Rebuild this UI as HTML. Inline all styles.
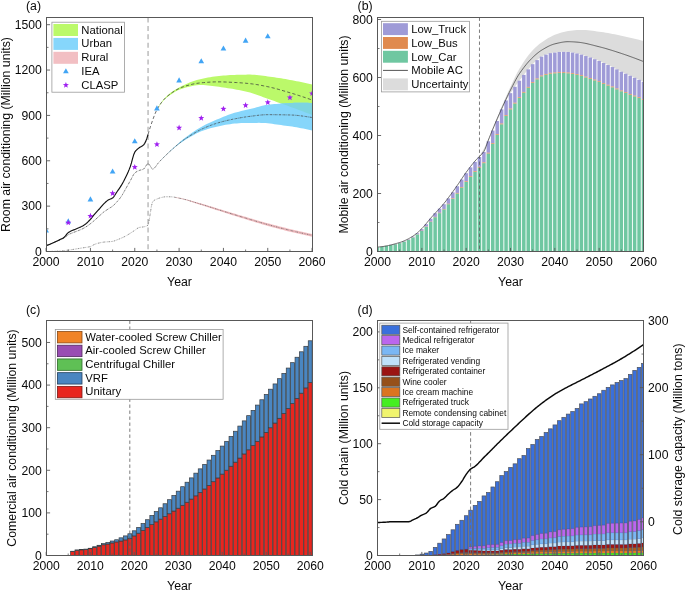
<!DOCTYPE html>
<html lang="en"><head><meta charset="utf-8"><title>Air conditioning and cold chain stock projections</title>
<style>html,body{margin:0;padding:0;background:#fff}body{width:685px;height:591px;overflow:hidden}svg{display:block}text{font-family:'Liberation Sans', Arial, Helvetica, sans-serif;fill:#0a0a0a}</style>
</head><body>
<svg width="685" height="591" viewBox="0 0 685 591">
<rect width="685" height="591" fill="#fff"/>
<g id="panel-a">
<clipPath id="clipA"><rect x="46.5" y="17.5" width="266" height="234"/></clipPath>
<g clip-path="url(#clipA)">
<path d="M156.93 109.07 L159.15 105.61 L161.37 102.35 L163.58 99.4 L165.8 96.91 L168.02 94.9 L170.23 93.11 L172.45 91.47 L174.67 89.98 L176.88 88.63 L179.1 87.38 L181.32 86.24 L183.53 85.18 L185.75 84.18 L187.97 83.23 L190.18 82.34 L192.4 81.52 L194.62 80.76 L196.83 80.07 L199.05 79.46 L201.27 78.92 L203.48 78.43 L205.7 77.96 L207.92 77.53 L210.13 77.14 L212.35 76.78 L214.57 76.47 L216.78 76.2 L219 75.97 L221.22 75.76 L223.43 75.56 L225.65 75.38 L227.87 75.23 L230.08 75.09 L232.3 74.98 L234.52 74.9 L236.73 74.83 L238.95 74.77 L241.17 74.71 L243.38 74.66 L245.6 74.63 L247.82 74.6 L250.03 74.59 L252.25 74.64 L254.47 74.78 L256.68 74.98 L258.9 75.23 L261.12 75.51 L263.33 75.82 L265.55 76.12 L267.76 76.41 L269.98 76.69 L272.2 76.99 L274.41 77.31 L276.63 77.65 L278.85 78 L281.06 78.36 L283.28 78.73 L285.5 79.11 L287.71 79.49 L289.93 79.89 L292.15 80.29 L294.36 80.7 L296.58 81.13 L298.8 81.56 L301.01 82.01 L303.23 82.47 L305.45 82.95 L307.66 83.43 L309.88 83.92 L312.1 84.42 L312.1 114.96 L309.88 114.11 L307.66 113.27 L305.45 112.42 L303.23 111.58 L301.01 110.75 L298.8 109.92 L296.58 109.09 L294.36 108.27 L292.15 107.46 L289.93 106.65 L287.71 105.84 L285.5 105.05 L283.28 104.25 L281.06 103.47 L278.85 102.68 L276.63 101.9 L274.41 101.12 L272.2 100.34 L269.98 99.57 L267.76 98.79 L265.55 97.99 L263.33 97.16 L261.12 96.32 L258.9 95.49 L256.68 94.69 L254.47 93.92 L252.25 93.22 L250.03 92.59 L247.82 92.02 L245.6 91.49 L243.38 90.99 L241.17 90.53 L238.95 90.08 L236.73 89.66 L234.52 89.26 L232.3 88.87 L230.08 88.49 L227.87 88.13 L225.65 87.78 L223.43 87.45 L221.22 87.14 L219 86.85 L216.78 86.58 L214.57 86.3 L212.35 86.01 L210.13 85.73 L207.92 85.48 L205.7 85.27 L203.48 85.11 L201.27 85.03 L199.05 85.06 L196.83 85.22 L194.62 85.52 L192.4 85.93 L190.18 86.42 L187.97 86.98 L185.75 87.58 L183.53 88.2 L181.32 88.92 L179.1 89.81 L176.88 90.86 L174.67 92.08 L172.45 93.44 L170.23 94.93 L168.02 96.55 L165.8 98.32 L163.58 100.56 L161.37 103.23 L159.15 106.21 L156.93 109.37Z" fill="#bbf96a"/>
<path d="M159.15 161.91 L161.37 159.62 L163.58 157.36 L165.8 155.13 L168.02 152.97 L170.23 150.85 L172.45 148.79 L174.67 146.76 L176.88 144.74 L179.1 142.75 L181.32 140.82 L183.53 139.01 L185.75 137.3 L187.97 135.67 L190.18 134.1 L192.4 132.56 L194.62 131.03 L196.83 129.54 L199.05 128.13 L201.27 126.88 L203.48 125.69 L205.7 124.56 L207.92 123.47 L210.13 122.43 L212.35 121.43 L214.57 120.47 L216.78 119.56 L219 118.66 L221.22 117.76 L223.43 116.86 L225.65 115.98 L227.87 115.12 L230.08 114.3 L232.3 113.54 L234.52 112.85 L236.73 112.22 L238.95 111.63 L241.17 111.08 L243.38 110.56 L245.6 110.06 L247.82 109.56 L250.03 109.07 L252.25 108.53 L254.47 107.92 L256.68 107.28 L258.9 106.63 L261.12 106.02 L263.33 105.47 L265.55 105.01 L267.76 104.68 L269.98 104.45 L272.2 104.24 L274.41 104.06 L276.63 103.9 L278.85 103.75 L281.06 103.61 L283.28 103.47 L285.5 103.33 L287.71 103.18 L289.93 103.02 L292.15 102.88 L294.36 102.78 L296.58 102.72 L298.8 102.7 L301.01 102.71 L303.23 102.74 L305.45 102.79 L307.66 102.86 L309.88 102.94 L312.1 103.02 L312.1 130.54 L309.88 130.05 L307.66 129.56 L305.45 129.08 L303.23 128.6 L301.01 128.14 L298.8 127.71 L296.58 127.3 L294.36 126.92 L292.15 126.59 L289.93 126.3 L287.71 126.03 L285.5 125.74 L283.28 125.43 L281.06 125.11 L278.85 124.79 L276.63 124.47 L274.41 124.15 L272.2 123.84 L269.98 123.55 L267.76 123.28 L265.55 123.07 L263.33 122.94 L261.12 122.88 L258.9 122.87 L256.68 122.89 L254.47 122.92 L252.25 122.96 L250.03 122.98 L247.82 122.99 L245.6 123.01 L243.38 123.05 L241.17 123.12 L238.95 123.23 L236.73 123.38 L234.52 123.58 L232.3 123.84 L230.08 124.14 L227.87 124.48 L225.65 124.86 L223.43 125.27 L221.22 125.71 L219 126.17 L216.78 126.65 L214.57 127.16 L212.35 127.71 L210.13 128.3 L207.92 128.95 L205.7 129.65 L203.48 130.41 L201.27 131.24 L199.05 132.17 L196.83 133.25 L194.62 134.44 L192.4 135.67 L190.18 136.91 L187.97 138.2 L185.75 139.55 L183.53 140.97 L181.32 142.49 L179.1 144.11 L176.88 145.81 L174.67 147.57 L172.45 149.42 L170.23 151.36 L168.02 153.37 L165.8 155.43 L163.58 157.58 L161.37 159.79 L159.15 162.06Z" fill="#86d6fb"/>
<clipPath id="clipU"><path d="M159.15 161.91 L161.37 159.62 L163.58 157.36 L165.8 155.13 L168.02 152.97 L170.23 150.85 L172.45 148.79 L174.67 146.76 L176.88 144.74 L179.1 142.75 L181.32 140.82 L183.53 139.01 L185.75 137.3 L187.97 135.67 L190.18 134.1 L192.4 132.56 L194.62 131.03 L196.83 129.54 L199.05 128.13 L201.27 126.88 L203.48 125.69 L205.7 124.56 L207.92 123.47 L210.13 122.43 L212.35 121.43 L214.57 120.47 L216.78 119.56 L219 118.66 L221.22 117.76 L223.43 116.86 L225.65 115.98 L227.87 115.12 L230.08 114.3 L232.3 113.54 L234.52 112.85 L236.73 112.22 L238.95 111.63 L241.17 111.08 L243.38 110.56 L245.6 110.06 L247.82 109.56 L250.03 109.07 L252.25 108.53 L254.47 107.92 L256.68 107.28 L258.9 106.63 L261.12 106.02 L263.33 105.47 L265.55 105.01 L267.76 104.68 L269.98 104.45 L272.2 104.24 L274.41 104.06 L276.63 103.9 L278.85 103.75 L281.06 103.61 L283.28 103.47 L285.5 103.33 L287.71 103.18 L289.93 103.02 L292.15 102.88 L294.36 102.78 L296.58 102.72 L298.8 102.7 L301.01 102.71 L303.23 102.74 L305.45 102.79 L307.66 102.86 L309.88 102.94 L312.1 103.02 L312.1 130.54 L309.88 130.05 L307.66 129.56 L305.45 129.08 L303.23 128.6 L301.01 128.14 L298.8 127.71 L296.58 127.3 L294.36 126.92 L292.15 126.59 L289.93 126.3 L287.71 126.03 L285.5 125.74 L283.28 125.43 L281.06 125.11 L278.85 124.79 L276.63 124.47 L274.41 124.15 L272.2 123.84 L269.98 123.55 L267.76 123.28 L265.55 123.07 L263.33 122.94 L261.12 122.88 L258.9 122.87 L256.68 122.89 L254.47 122.92 L252.25 122.96 L250.03 122.98 L247.82 122.99 L245.6 123.01 L243.38 123.05 L241.17 123.12 L238.95 123.23 L236.73 123.38 L234.52 123.58 L232.3 123.84 L230.08 124.14 L227.87 124.48 L225.65 124.86 L223.43 125.27 L221.22 125.71 L219 126.17 L216.78 126.65 L214.57 127.16 L212.35 127.71 L210.13 128.3 L207.92 128.95 L205.7 129.65 L203.48 130.41 L201.27 131.24 L199.05 132.17 L196.83 133.25 L194.62 134.44 L192.4 135.67 L190.18 136.91 L187.97 138.2 L185.75 139.55 L183.53 140.97 L181.32 142.49 L179.1 144.11 L176.88 145.81 L174.67 147.57 L172.45 149.42 L170.23 151.36 L168.02 153.37 L165.8 155.43 L163.58 157.58 L161.37 159.79 L159.15 162.06Z"/></clipPath>
<path d="M156.93 109.07 L159.15 105.61 L161.37 102.35 L163.58 99.4 L165.8 96.91 L168.02 94.9 L170.23 93.11 L172.45 91.47 L174.67 89.98 L176.88 88.63 L179.1 87.38 L181.32 86.24 L183.53 85.18 L185.75 84.18 L187.97 83.23 L190.18 82.34 L192.4 81.52 L194.62 80.76 L196.83 80.07 L199.05 79.46 L201.27 78.92 L203.48 78.43 L205.7 77.96 L207.92 77.53 L210.13 77.14 L212.35 76.78 L214.57 76.47 L216.78 76.2 L219 75.97 L221.22 75.76 L223.43 75.56 L225.65 75.38 L227.87 75.23 L230.08 75.09 L232.3 74.98 L234.52 74.9 L236.73 74.83 L238.95 74.77 L241.17 74.71 L243.38 74.66 L245.6 74.63 L247.82 74.6 L250.03 74.59 L252.25 74.64 L254.47 74.78 L256.68 74.98 L258.9 75.23 L261.12 75.51 L263.33 75.82 L265.55 76.12 L267.76 76.41 L269.98 76.69 L272.2 76.99 L274.41 77.31 L276.63 77.65 L278.85 78 L281.06 78.36 L283.28 78.73 L285.5 79.11 L287.71 79.49 L289.93 79.89 L292.15 80.29 L294.36 80.7 L296.58 81.13 L298.8 81.56 L301.01 82.01 L303.23 82.47 L305.45 82.95 L307.66 83.43 L309.88 83.92 L312.1 84.42 L312.1 114.96 L309.88 114.11 L307.66 113.27 L305.45 112.42 L303.23 111.58 L301.01 110.75 L298.8 109.92 L296.58 109.09 L294.36 108.27 L292.15 107.46 L289.93 106.65 L287.71 105.84 L285.5 105.05 L283.28 104.25 L281.06 103.47 L278.85 102.68 L276.63 101.9 L274.41 101.12 L272.2 100.34 L269.98 99.57 L267.76 98.79 L265.55 97.99 L263.33 97.16 L261.12 96.32 L258.9 95.49 L256.68 94.69 L254.47 93.92 L252.25 93.22 L250.03 92.59 L247.82 92.02 L245.6 91.49 L243.38 90.99 L241.17 90.53 L238.95 90.08 L236.73 89.66 L234.52 89.26 L232.3 88.87 L230.08 88.49 L227.87 88.13 L225.65 87.78 L223.43 87.45 L221.22 87.14 L219 86.85 L216.78 86.58 L214.57 86.3 L212.35 86.01 L210.13 85.73 L207.92 85.48 L205.7 85.27 L203.48 85.11 L201.27 85.03 L199.05 85.06 L196.83 85.22 L194.62 85.52 L192.4 85.93 L190.18 86.42 L187.97 86.98 L185.75 87.58 L183.53 88.2 L181.32 88.92 L179.1 89.81 L176.88 90.86 L174.67 92.08 L172.45 93.44 L170.23 94.93 L168.02 96.55 L165.8 98.32 L163.58 100.56 L161.37 103.23 L159.15 106.21 L156.93 109.37Z" fill="#7dd4e0" clip-path="url(#clipU)"/>
<path d="M174.67 197.08 L176.88 197.46 L179.1 197.85 L181.32 198.25 L183.53 198.71 L185.75 199.23 L187.97 199.79 L190.18 200.39 L192.4 201.01 L194.62 201.65 L196.83 202.29 L199.05 202.94 L201.27 203.57 L203.48 204.2 L205.7 204.85 L207.92 205.51 L210.13 206.18 L212.35 206.86 L214.57 207.54 L216.78 208.22 L219 208.9 L221.22 209.58 L223.43 210.25 L225.65 210.91 L227.87 211.58 L230.08 212.24 L232.3 212.91 L234.52 213.57 L236.73 214.24 L238.95 214.9 L241.17 215.56 L243.38 216.22 L245.6 216.87 L247.82 217.53 L250.03 218.18 L252.25 218.84 L254.47 219.49 L256.68 220.14 L258.9 220.78 L261.12 221.41 L263.33 222.04 L265.55 222.66 L267.76 223.27 L269.98 223.86 L272.2 224.45 L274.41 225.04 L276.63 225.62 L278.85 226.19 L281.06 226.75 L283.28 227.31 L285.5 227.86 L287.71 228.4 L289.93 228.93 L292.15 229.45 L294.36 229.97 L296.58 230.48 L298.8 230.99 L301.01 231.49 L303.23 231.98 L305.45 232.47 L307.66 232.95 L309.88 233.42 L312.1 233.88 L312.1 236.76 L309.88 236.29 L307.66 235.82 L305.45 235.34 L303.23 234.84 L301.01 234.35 L298.8 233.84 L296.58 233.32 L294.36 232.8 L292.15 232.27 L289.93 231.74 L287.71 231.19 L285.5 230.64 L283.28 230.07 L281.06 229.5 L278.85 228.92 L276.63 228.33 L274.41 227.74 L272.2 227.13 L269.98 226.52 L267.76 225.91 L265.55 225.28 L263.33 224.64 L261.12 223.99 L258.9 223.34 L256.68 222.67 L254.47 222 L252.25 221.33 L250.03 220.65 L247.82 219.97 L245.6 219.29 L243.38 218.61 L241.17 217.93 L238.95 217.24 L236.73 216.55 L234.52 215.85 L232.3 215.15 L230.08 214.44 L227.87 213.73 L225.65 213.02 L223.43 212.31 L221.22 211.6 L219 210.87 L216.78 210.14 L214.57 209.41 L212.35 208.67 L210.13 207.94 L207.92 207.21 L205.7 206.49 L203.48 205.78 L201.27 205.08 L199.05 204.38 L196.83 203.66 L194.62 202.93 L192.4 202.2 L190.18 201.48 L187.97 200.78 L185.75 200.11 L183.53 199.49 L181.32 198.91 L179.1 198.4 L176.88 197.89 L174.67 197.39Z" fill="#f4c0c4"/>
<line x1="148.07" y1="17.5" x2="148.07" y2="251.5" stroke="#bcbcbc" stroke-width="1.5" stroke-dasharray="5 3.4"/>
<path d="M46.1 251.5 L47.21 251.5 L48.32 251.48 L49.42 251.46 L50.53 251.43 L51.64 251.4 L52.75 251.36 L53.86 251.32 L54.97 251.27 L56.07 251.22 L57.18 251.16 L58.29 251.1 L59.4 251.05 L60.51 250.98 L61.62 250.89 L62.72 250.79 L63.83 250.67 L64.94 250.54 L66.05 250.41 L67.16 250.28 L68.27 250.14 L69.37 250 L70.48 249.84 L71.59 249.68 L72.7 249.51 L73.81 249.33 L74.92 249.15 L76.02 248.96 L77.13 248.78 L78.24 248.59 L79.35 248.4 L80.46 248.21 L81.57 248.02 L82.67 247.85 L83.78 247.69 L84.89 247.54 L86 247.38 L87.11 247.21 L88.22 247.02 L89.32 246.79 L90.43 246.51 L91.54 246.06 L92.65 245.41 L93.76 244.75 L94.87 244.24 L95.97 243.88 L97.08 243.54 L98.19 243.23 L99.3 242.95 L100.41 242.69 L101.52 242.47 L102.62 242.28 L103.73 242.13 L104.84 242 L105.95 241.91 L107.06 241.84 L108.17 241.77 L109.27 241.7 L110.38 241.62 L111.49 241.51 L112.6 241.37 L113.71 241.12 L114.82 240.74 L115.92 240.3 L117.03 239.86 L118.14 239.43 L119.25 238.99 L120.36 238.52 L121.47 238.04 L122.57 237.55 L123.68 237.04 L124.79 236.5 L125.9 235.93 L127.01 235.3 L128.12 234.62 L129.22 233.91 L130.33 233.2 L131.44 232.5 L132.55 231.78 L133.66 231.05 L134.77 230.33 L135.87 229.53 L136.98 228.66 L138.09 227.91 L139.2 227.46 L140.31 227.27 L141.42 227.14 L142.52 227.03 L143.63 226.85 L144.74 226.62 L145.85 226.32 L146.96 225.83 L148.07 225.04 L149.17 220.05 L150.28 213.51 L151.39 206.22 L152.5 201.91 L153.61 200.79 L154.72 200.04 L155.82 199.51 L156.93 199.03 L158.04 198.57 L159.15 198.16 L160.26 197.81 L161.37 197.52 L162.47 197.26 L163.58 197.02 L164.69 196.84 L165.8 196.76 L166.91 196.76 L168.02 196.76 L169.12 196.76 L170.23 196.76 L171.34 196.8 L172.45 196.9 L173.56 197.05 L174.67 197.23 L175.77 197.45 L176.88 197.68 L177.99 197.91 L179.1 198.13 L180.21 198.35 L181.32 198.58 L182.42 198.83 L183.53 199.1 L184.64 199.38 L185.75 199.67 L186.86 199.97 L187.97 200.29 L189.07 200.61 L190.18 200.93 L191.29 201.27 L192.4 201.6 L193.51 201.94 L194.62 202.29 L195.72 202.63 L196.83 202.98 L197.94 203.32 L199.05 203.66 L200.16 203.99 L201.27 204.33 L202.37 204.65 L203.48 204.99 L204.59 205.33 L205.7 205.67 L206.81 206.01 L207.92 206.36 L209.02 206.71 L210.13 207.06 L211.24 207.41 L212.35 207.76 L213.46 208.12 L214.57 208.47 L215.67 208.83 L216.78 209.18 L217.89 209.53 L219 209.89 L220.11 210.24 L221.22 210.59 L222.32 210.94 L223.43 211.28 L224.54 211.62 L225.65 211.97 L226.76 212.31 L227.87 212.66 L228.97 213 L230.08 213.34 L231.19 213.69 L232.3 214.03 L233.41 214.37 L234.52 214.71 L235.62 215.05 L236.73 215.39 L237.84 215.73 L238.95 216.07 L240.06 216.41 L241.17 216.75 L242.27 217.08 L243.38 217.42 L244.49 217.75 L245.6 218.08 L246.71 218.42 L247.82 218.75 L248.92 219.08 L250.03 219.42 L251.14 219.75 L252.25 220.08 L253.36 220.41 L254.47 220.74 L255.57 221.07 L256.68 221.4 L257.79 221.73 L258.9 222.06 L260.01 222.38 L261.12 222.7 L262.22 223.02 L263.33 223.34 L264.44 223.66 L265.55 223.97 L266.66 224.28 L267.76 224.59 L268.87 224.89 L269.98 225.19 L271.09 225.49 L272.2 225.79 L273.31 226.09 L274.41 226.39 L275.52 226.68 L276.63 226.97 L277.74 227.26 L278.85 227.55 L279.96 227.84 L281.06 228.13 L282.17 228.41 L283.28 228.69 L284.39 228.97 L285.5 229.25 L286.61 229.52 L287.71 229.79 L288.82 230.06 L289.93 230.33 L291.04 230.6 L292.15 230.86 L293.26 231.13 L294.36 231.39 L295.47 231.65 L296.58 231.9 L297.69 232.16 L298.8 232.41 L299.91 232.67 L301.01 232.92 L302.12 233.17 L303.23 233.41 L304.34 233.66 L305.45 233.9 L306.56 234.14 L307.66 234.38 L308.77 234.62 L309.88 234.86 L310.99 235.09 L312.1 235.32" fill="none" stroke="#555" stroke-width="0.7" stroke-dasharray="1.6 0.9 0.5 0.9 0.5 0.9"/>
<path d="M46.1 245.75 L47.21 245.31 L48.32 244.87 L49.42 244.41 L50.53 243.94 L51.64 243.46 L52.75 242.97 L53.86 242.47 L54.97 241.97 L56.07 241.48 L57.18 240.98 L58.29 240.49 L59.4 240.01 L60.51 239.57 L61.62 239.16 L62.72 238.72 L63.83 238.19 L64.94 237.43 L66.05 236.47 L67.16 235.5 L68.27 234.72 L69.37 234.14 L70.48 233.65 L71.59 233.19 L72.7 232.75 L73.81 232.32 L74.92 231.91 L76.02 231.51 L77.13 231.09 L78.24 230.66 L79.35 230.22 L80.46 229.77 L81.57 229.27 L82.67 228.73 L83.78 228.15 L84.89 227.52 L86 226.85 L87.11 226.13 L88.22 225.35 L89.32 224.52 L90.43 223.68 L91.54 222.82 L92.65 221.92 L93.76 221 L94.87 220.05 L95.97 219.06 L97.08 218.03 L98.19 216.99 L99.3 215.97 L100.41 214.95 L101.52 213.93 L102.62 212.94 L103.73 212.04 L104.84 211.22 L105.95 210.47 L107.06 209.74 L108.17 209.01 L109.27 208.31 L110.38 207.64 L111.49 206.94 L112.6 206.14 L113.71 205.2 L114.82 204.13 L115.92 202.97 L117.03 201.75 L118.14 200.49 L119.25 199.15 L120.36 197.72 L121.47 196.16 L122.57 194.4 L123.68 192.46 L124.79 190.43 L125.9 188.45 L127.01 186.52 L128.12 184.59 L129.22 182.67 L130.33 180.74 L131.44 178.63 L132.55 176.4 L133.66 174.41 L134.77 173.03 L135.87 172.17 L136.98 171.48 L138.09 170.93 L139.2 170.46 L140.31 170.1 L141.42 169.85 L142.52 169.56 L143.63 169.09 L144.74 167.82 L145.85 165.96 L146.96 164.48 L148.07 163.2 L149.17 164.48 L150.28 165.99 L151.39 168.02 L152.5 169.09 L153.61 168.73 L154.72 167.76 L155.82 166.4 L156.93 164.85 L158.04 163.31 L159.15 161.99 L160.26 160.84 L161.37 159.71 L162.47 158.58 L163.58 157.46 L164.69 156.36 L165.8 155.28 L166.91 154.22 L168.02 153.17 L169.12 152.13 L170.23 151.1 L171.34 150.09 L172.45 149.1 L173.56 148.13 L174.67 147.17 L175.77 146.23 L176.88 145.29 L177.99 144.37 L179.1 143.47 L180.21 142.58 L181.32 141.71 L182.42 140.87 L183.53 140.06 L184.64 139.28 L185.75 138.52 L186.86 137.79 L187.97 137.07 L189.07 136.36 L190.18 135.67 L191.29 134.99 L192.4 134.32 L193.51 133.65 L194.62 132.98 L195.72 132.31 L196.83 131.67 L197.94 131.04 L199.05 130.45 L200.16 129.89 L201.27 129.36 L202.37 128.85 L203.48 128.35 L204.59 127.85 L205.7 127.37 L206.81 126.9 L207.92 126.45 L209.02 126 L210.13 125.57 L211.24 125.15 L212.35 124.74 L213.46 124.35 L214.57 123.97 L215.67 123.6 L216.78 123.25 L217.89 122.91 L219 122.59 L220.11 122.27 L221.22 121.97 L222.32 121.67 L223.43 121.38 L224.54 121.1 L225.65 120.83 L226.76 120.56 L227.87 120.3 L228.97 120.05 L230.08 119.81 L231.19 119.57 L232.3 119.34 L233.41 119.12 L234.52 118.9 L235.62 118.68 L236.73 118.47 L237.84 118.26 L238.95 118.05 L240.06 117.85 L241.17 117.65 L242.27 117.46 L243.38 117.28 L244.49 117.1 L245.6 116.93 L246.71 116.77 L247.82 116.61 L248.92 116.46 L250.03 116.33 L251.14 116.19 L252.25 116.05 L253.36 115.91 L254.47 115.77 L255.57 115.62 L256.68 115.49 L257.79 115.35 L258.9 115.23 L260.01 115.11 L261.12 115 L262.22 114.9 L263.33 114.82 L264.44 114.75 L265.55 114.7 L266.66 114.67 L267.76 114.66 L268.87 114.66 L269.98 114.67 L271.09 114.67 L272.2 114.68 L273.31 114.68 L274.41 114.69 L275.52 114.7 L276.63 114.72 L277.74 114.73 L278.85 114.75 L279.96 114.76 L281.06 114.78 L282.17 114.8 L283.28 114.82 L284.39 114.84 L285.5 114.86 L286.61 114.89 L287.71 114.91 L288.82 114.94 L289.93 114.96 L291.04 115 L292.15 115.05 L293.26 115.11 L294.36 115.18 L295.47 115.27 L296.58 115.37 L297.69 115.47 L298.8 115.59 L299.91 115.72 L301.01 115.85 L302.12 116 L303.23 116.15 L304.34 116.31 L305.45 116.47 L306.56 116.64 L307.66 116.81 L308.77 116.99 L309.88 117.17 L310.99 117.35 L312.1 117.54" fill="none" stroke="#444" stroke-width="0.75" stroke-dasharray="2.2 0.8 0.6 0.8"/>
<path d="M148.07 134.32 L150.28 127.08 L152.5 120.56 L154.72 114.5 L156.93 109.52 L159.15 105.83 L161.37 102.62 L163.58 99.89 L165.8 97.61 L168.02 95.71 L170.23 93.97 L172.45 92.38 L174.67 90.92 L176.88 89.62 L179.1 88.48 L181.32 87.5 L183.53 86.69 L185.75 85.99 L187.97 85.34 L190.18 84.75 L192.4 84.21 L194.62 83.75 L196.83 83.36 L199.05 83.05 L201.27 82.82 L203.48 82.62 L205.7 82.43 L207.92 82.25 L210.13 82.1 L212.35 81.98 L214.57 81.9 L216.78 81.86 L219 81.86 L221.22 81.89 L223.43 81.95 L225.65 82.03 L227.87 82.13 L230.08 82.23 L232.3 82.35 L234.52 82.46 L236.73 82.57 L238.95 82.71 L241.17 82.87 L243.38 83.04 L245.6 83.23 L247.82 83.44 L250.03 83.67 L252.25 83.93 L254.47 84.23 L256.68 84.57 L258.9 84.95 L261.12 85.36 L263.33 85.79 L265.55 86.23 L267.76 86.69 L269.98 87.17 L272.2 87.7 L274.41 88.26 L276.63 88.85 L278.85 89.47 L281.06 90.1 L283.28 90.75 L285.5 91.41 L287.71 92.08 L289.93 92.74 L292.15 93.4 L294.36 94.09 L296.58 94.78 L298.8 95.49 L301.01 96.21 L303.23 96.94 L305.45 97.69 L307.66 98.45 L309.88 99.22 L312.1 100" fill="none" stroke="#3c3c3c" stroke-width="0.75" stroke-dasharray="3.2 2.2"/>
<path d="M46.1 245.75 L47.21 245.31 L48.32 244.87 L49.42 244.41 L50.53 243.94 L51.64 243.46 L52.75 242.98 L53.86 242.48 L54.97 241.97 L56.07 241.46 L57.18 240.93 L58.29 240.4 L59.4 239.86 L60.51 239.34 L61.62 238.84 L62.72 238.28 L63.83 237.59 L64.94 236.52 L66.05 235.09 L67.16 233.67 L68.27 232.6 L69.37 231.9 L70.48 231.33 L71.59 230.82 L72.7 230.33 L73.81 229.85 L74.92 229.41 L76.02 228.97 L77.13 228.52 L78.24 228.05 L79.35 227.59 L80.46 227.1 L81.57 226.55 L82.67 225.94 L83.78 225.26 L84.89 224.51 L86 223.68 L87.11 222.73 L88.22 221.66 L89.32 220.5 L90.43 219.29 L91.54 218 L92.65 216.61 L93.76 215.19 L94.87 213.85 L95.97 212.61 L97.08 211.41 L98.19 210.23 L99.3 209.01 L100.41 207.71 L101.52 206.36 L102.62 205.05 L103.73 203.87 L104.84 202.8 L105.95 201.78 L107.06 200.86 L108.17 200.09 L109.27 199.53 L110.38 199.09 L111.49 198.62 L112.6 197.97 L113.71 196.86 L114.82 195.28 L115.92 193.5 L117.03 191.78 L118.14 190.18 L119.25 188.57 L120.36 186.9 L121.47 185.12 L122.57 183.21 L123.68 181.19 L124.79 179.05 L125.9 176.81 L127.01 174.47 L128.12 172.01 L129.22 169.39 L130.33 166.52 L131.44 162.91 L132.55 158.68 L133.66 154.79 L134.77 152.16 L135.87 150.69 L136.98 149.56 L138.09 148.63 L139.2 147.78 L140.31 147.04 L141.42 146.45 L142.52 145.81 L143.63 144.9 L144.74 143.35 L145.85 141.12 L146.96 138.15 L148.07 134.32" fill="none" stroke="#111" stroke-width="1.15" stroke-linejoin="round"/>
<path d="M46.1 227.36 L48.95 232.49 L43.25 232.49 Z" fill="#42a5f5"/>
<path d="M68.27 218.28 L71.12 223.41 L65.42 223.41 Z" fill="#42a5f5"/>
<path d="M90.43 196.36 L93.28 201.49 L87.58 201.49 Z" fill="#42a5f5"/>
<path d="M112.6 168.39 L115.45 173.52 L109.75 173.52 Z" fill="#42a5f5"/>
<path d="M134.77 138.15 L137.62 143.28 L131.92 143.28 Z" fill="#42a5f5"/>
<path d="M156.93 105.34 L159.78 110.47 L154.08 110.47 Z" fill="#42a5f5"/>
<path d="M179.1 77.36 L181.95 82.49 L176.25 82.49 Z" fill="#42a5f5"/>
<path d="M201.27 58.16 L204.12 63.29 L198.42 63.29 Z" fill="#42a5f5"/>
<path d="M223.43 45.46 L226.28 50.59 L220.58 50.59 Z" fill="#42a5f5"/>
<path d="M245.6 37.6 L248.45 42.73 L242.75 42.73 Z" fill="#42a5f5"/>
<path d="M267.76 33.21 L270.62 38.34 L264.91 38.34 Z" fill="#42a5f5"/>
<path d="M68.27 219.57 L69.06 221.68 L71.31 221.78 L69.54 223.19 L70.15 225.36 L68.27 224.12 L66.39 225.36 L66.99 223.19 L65.22 221.78 L67.48 221.68Z" fill="#a020f0"/>
<path d="M90.43 212.77 L91.22 214.88 L93.48 214.98 L91.71 216.38 L92.31 218.56 L90.43 217.31 L88.55 218.56 L89.15 216.38 L87.39 214.98 L89.64 214.88Z" fill="#a020f0"/>
<path d="M112.6 190.09 L113.39 192.2 L115.64 192.3 L113.88 193.7 L114.48 195.88 L112.6 194.63 L110.72 195.88 L111.32 193.7 L109.56 192.3 L111.81 192.2Z" fill="#a020f0"/>
<path d="M134.77 163.93 L135.56 166.04 L137.81 166.14 L136.04 167.54 L136.65 169.72 L134.77 168.47 L132.89 169.72 L133.49 167.54 L131.72 166.14 L133.98 166.04Z" fill="#a020f0"/>
<path d="M156.93 141.25 L157.72 143.36 L159.98 143.46 L158.21 144.86 L158.81 147.04 L156.93 145.79 L155.05 147.04 L155.65 144.86 L153.89 143.46 L156.14 143.36Z" fill="#a020f0"/>
<path d="M179.1 124.62 L179.89 126.73 L182.14 126.83 L180.38 128.23 L180.98 130.41 L179.1 129.16 L177.22 130.41 L177.82 128.23 L176.06 126.83 L178.31 126.73Z" fill="#a020f0"/>
<path d="M201.27 114.94 L202.06 117.05 L204.31 117.15 L202.54 118.56 L203.15 120.73 L201.27 119.48 L199.38 120.73 L199.99 118.56 L198.22 117.15 L200.48 117.05Z" fill="#a020f0"/>
<path d="M223.43 105.72 L224.22 107.83 L226.48 107.93 L224.71 109.33 L225.31 111.51 L223.43 110.26 L221.55 111.51 L222.15 109.33 L220.39 107.93 L222.64 107.83Z" fill="#a020f0"/>
<path d="M245.6 102.09 L246.39 104.2 L248.64 104.3 L246.88 105.7 L247.48 107.88 L245.6 106.63 L243.72 107.88 L244.32 105.7 L242.56 104.3 L244.81 104.2Z" fill="#a020f0"/>
<path d="M267.76 99.21 L268.55 101.33 L270.81 101.43 L269.04 102.83 L269.65 105 L267.76 103.76 L265.88 105 L266.49 102.83 L264.72 101.43 L266.98 101.33Z" fill="#a020f0"/>
<path d="M289.93 94.38 L290.72 96.49 L292.97 96.59 L291.21 97.99 L291.81 100.17 L289.93 98.92 L288.05 100.17 L288.65 97.99 L286.89 96.59 L289.14 96.49Z" fill="#a020f0"/>
<path d="M312.1 90.29 L312.89 92.41 L315.14 92.51 L313.38 93.91 L313.98 96.08 L312.1 94.84 L310.22 96.08 L310.82 93.91 L309.05 92.51 L311.31 92.41Z" fill="#a020f0"/>
</g>
<rect x="46.5" y="17.5" width="266" height="234" fill="none" stroke="#585858" stroke-width="1"/>
<line x1="68.27" y1="251.5" x2="68.27" y2="249.5" stroke="#585858" stroke-width="0.8"/>
<line x1="112.6" y1="251.5" x2="112.6" y2="249.5" stroke="#585858" stroke-width="0.8"/>
<line x1="156.93" y1="251.5" x2="156.93" y2="249.5" stroke="#585858" stroke-width="0.8"/>
<line x1="201.27" y1="251.5" x2="201.27" y2="249.5" stroke="#585858" stroke-width="0.8"/>
<line x1="245.6" y1="251.5" x2="245.6" y2="249.5" stroke="#585858" stroke-width="0.8"/>
<line x1="289.93" y1="251.5" x2="289.93" y2="249.5" stroke="#585858" stroke-width="0.8"/>
<line x1="46.1" y1="251.5" x2="46.1" y2="247.9" stroke="#585858" stroke-width="0.9"/>
<text x="46.1" y="265.9" font-size="12.2" text-anchor="middle">2000</text>
<line x1="90.43" y1="251.5" x2="90.43" y2="247.9" stroke="#585858" stroke-width="0.9"/>
<text x="90.43" y="265.9" font-size="12.2" text-anchor="middle">2010</text>
<line x1="134.77" y1="251.5" x2="134.77" y2="247.9" stroke="#585858" stroke-width="0.9"/>
<text x="134.77" y="265.9" font-size="12.2" text-anchor="middle">2020</text>
<line x1="179.1" y1="251.5" x2="179.1" y2="247.9" stroke="#585858" stroke-width="0.9"/>
<text x="179.1" y="265.9" font-size="12.2" text-anchor="middle">2030</text>
<line x1="223.43" y1="251.5" x2="223.43" y2="247.9" stroke="#585858" stroke-width="0.9"/>
<text x="223.43" y="265.9" font-size="12.2" text-anchor="middle">2040</text>
<line x1="267.76" y1="251.5" x2="267.76" y2="247.9" stroke="#585858" stroke-width="0.9"/>
<text x="267.76" y="265.9" font-size="12.2" text-anchor="middle">2050</text>
<line x1="312.1" y1="251.5" x2="312.1" y2="247.9" stroke="#585858" stroke-width="0.9"/>
<text x="312.1" y="265.9" font-size="12.2" text-anchor="middle">2060</text>
<line x1="46.5" y1="228.82" x2="48.5" y2="228.82" stroke="#585858" stroke-width="0.8"/>
<line x1="46.5" y1="183.46" x2="48.5" y2="183.46" stroke="#585858" stroke-width="0.8"/>
<line x1="46.5" y1="138.1" x2="48.5" y2="138.1" stroke="#585858" stroke-width="0.8"/>
<line x1="46.5" y1="92.74" x2="48.5" y2="92.74" stroke="#585858" stroke-width="0.8"/>
<line x1="46.5" y1="47.38" x2="48.5" y2="47.38" stroke="#585858" stroke-width="0.8"/>
<line x1="46.5" y1="251.5" x2="50.1" y2="251.5" stroke="#585858" stroke-width="0.9"/>
<text x="41.9" y="255.8" font-size="12.2" text-anchor="end">0</text>
<line x1="46.5" y1="206.14" x2="50.1" y2="206.14" stroke="#585858" stroke-width="0.9"/>
<text x="41.9" y="210.44" font-size="12.2" text-anchor="end">300</text>
<line x1="46.5" y1="160.78" x2="50.1" y2="160.78" stroke="#585858" stroke-width="0.9"/>
<text x="41.9" y="165.08" font-size="12.2" text-anchor="end">600</text>
<line x1="46.5" y1="115.42" x2="50.1" y2="115.42" stroke="#585858" stroke-width="0.9"/>
<text x="41.9" y="119.72" font-size="12.2" text-anchor="end">900</text>
<line x1="46.5" y1="70.06" x2="50.1" y2="70.06" stroke="#585858" stroke-width="0.9"/>
<text x="41.9" y="74.36" font-size="12.2" text-anchor="end">1200</text>
<line x1="46.5" y1="24.7" x2="50.1" y2="24.7" stroke="#585858" stroke-width="0.9"/>
<text x="41.9" y="29" font-size="12.2" text-anchor="end">1500</text>
<text transform="translate(10 134.5) rotate(-90)" font-size="12.3" text-anchor="middle">Room air conditioning (Million units)</text>
<text x="179.5" y="285.5" font-size="12.3" text-anchor="middle">Year</text>
<text x="26" y="10.3" font-size="12.3">(a)</text>
<rect x="51.9" y="22.2" width="72.6" height="70" fill="#fff" stroke="#9a9a9a" stroke-width="0.8"/>
<rect x="53.4" y="24" width="24.6" height="12" fill="#bbf96a"/>
<text x="81.3" y="33.7" font-size="11.3">National</text>
<rect x="53.4" y="37.9" width="24.6" height="12" fill="#86d6fb"/>
<text x="81.3" y="47.45" font-size="11.3">Urban</text>
<rect x="53.4" y="51.8" width="24.6" height="12" fill="#f2bfc3"/>
<text x="81.3" y="61.2" font-size="11.3">Rural</text>
<path d="M65.9 68.22 L68.75 73.35 L63.05 73.35 Z" fill="#42a5f5"/>
<text x="81.3" y="74.95" font-size="11.3">IEA</text>
<path d="M65.9 82 L66.69 84.11 L68.94 84.21 L67.18 85.62 L67.78 87.79 L65.9 86.54 L64.02 87.79 L64.62 85.62 L62.86 84.21 L65.11 84.11Z" fill="#a020f0"/>
<text x="81.3" y="88.7" font-size="11.3">CLASP</text>
</g>
<g id="panel-b">
<clipPath id="clipB"><rect x="377.5" y="17.5" width="266" height="234"/></clipPath>
<g clip-path="url(#clipB)">
<path d="M479.47 156.38 L481.68 152.57 L483.9 148.49 L486.12 144.16 L488.33 139.56 L490.55 134.55 L492.77 129.09 L494.98 123.37 L497.2 117.58 L499.42 111.89 L501.63 106.5 L503.85 101.38 L506.07 96.4 L508.28 91.53 L510.5 86.78 L512.72 82.02 L514.93 77.29 L517.15 72.82 L519.37 68.8 L521.58 65.18 L523.8 61.74 L526.02 58.51 L528.23 55.5 L530.45 52.74 L532.67 50.24 L534.88 47.98 L537.1 45.92 L539.32 44.07 L541.53 42.41 L543.75 40.89 L545.97 39.45 L548.18 38.1 L550.4 36.88 L552.62 35.8 L554.83 34.87 L557.05 34.05 L559.27 33.28 L561.48 32.58 L563.7 31.97 L565.92 31.47 L568.13 31.1 L570.35 30.81 L572.57 30.54 L574.78 30.3 L577 30.11 L579.22 29.99 L581.43 29.94 L583.65 29.99 L585.87 30.11 L588.08 30.29 L590.3 30.53 L592.52 30.8 L594.73 31.09 L596.95 31.39 L599.17 31.68 L601.38 31.98 L603.6 32.32 L605.82 32.68 L608.03 33.07 L610.25 33.49 L612.47 33.92 L614.68 34.37 L616.9 34.82 L619.12 35.28 L621.33 35.74 L623.55 36.2 L625.77 36.68 L627.98 37.17 L630.2 37.68 L632.42 38.2 L634.63 38.73 L636.85 39.27 L639.07 39.82 L641.28 40.39 L643.5 40.96 L643.5 81.85 L641.28 80.84 L639.07 79.82 L636.85 78.81 L634.63 77.79 L632.42 76.78 L630.2 75.76 L627.98 74.75 L625.77 73.73 L623.55 72.73 L621.33 71.7 L619.12 70.56 L616.9 69.38 L614.68 68.2 L612.47 67.06 L610.25 66.03 L608.03 65.03 L605.82 64.02 L603.6 63 L601.38 61.97 L599.17 60.97 L596.95 60.08 L594.73 59.23 L592.52 58.34 L590.3 57.49 L588.08 56.75 L585.87 56.04 L583.65 55.3 L581.43 54.59 L579.22 53.97 L577 53.43 L574.78 52.96 L572.57 52.56 L570.35 52.22 L568.13 51.98 L565.92 51.86 L563.7 51.81 L561.48 51.86 L559.27 51.98 L557.05 52.23 L554.83 52.56 L552.62 52.82 L550.4 53.14 L548.18 53.76 L545.97 54.59 L543.75 55.5 L541.53 56.62 L539.32 58.21 L537.1 60.1 L534.88 62.03 L532.67 64.16 L530.45 66.67 L528.23 69.38 L526.02 72.1 L523.8 74.89 L521.58 77.75 L519.37 80.69 L517.15 83.7 L514.93 86.78 L512.72 89.9 L510.5 93.16 L508.28 96.63 L506.07 100.41 L503.85 104.64 L501.63 109.4 L499.42 115.16 L497.2 121 L494.98 125.83 L492.77 130.57 L490.55 135.86 L488.33 141.3 L486.12 147.16 L483.9 152.03 L481.68 154.72 L479.47 156.96Z" fill="#dcdcdc"/>
<rect x="375.75" y="247.28" width="3.5" height="4.22" fill="#6fc7a1"/>
<rect x="375.75" y="247.15" width="3.5" height="0.1" fill="#9f9bd7"/>
<rect x="375.75" y="247.25" width="3.5" height="0.03" fill="#e08a4f"/>
<rect x="380.18" y="246.72" width="3.5" height="4.78" fill="#6fc7a1"/>
<rect x="380.18" y="246.57" width="3.5" height="0.11" fill="#9f9bd7"/>
<rect x="380.18" y="246.68" width="3.5" height="0.04" fill="#e08a4f"/>
<rect x="384.62" y="245.88" width="3.5" height="5.62" fill="#6fc7a1"/>
<rect x="384.62" y="245.7" width="3.5" height="0.13" fill="#9f9bd7"/>
<rect x="384.62" y="245.83" width="3.5" height="0.05" fill="#e08a4f"/>
<rect x="389.05" y="245.05" width="3.5" height="6.45" fill="#6fc7a1"/>
<rect x="389.05" y="244.83" width="3.5" height="0.17" fill="#9f9bd7"/>
<rect x="389.05" y="245" width="3.5" height="0.05" fill="#e08a4f"/>
<rect x="393.48" y="244.22" width="3.5" height="7.28" fill="#6fc7a1"/>
<rect x="393.48" y="243.96" width="3.5" height="0.2" fill="#9f9bd7"/>
<rect x="393.48" y="244.16" width="3.5" height="0.06" fill="#e08a4f"/>
<rect x="397.92" y="243.13" width="3.5" height="8.37" fill="#6fc7a1"/>
<rect x="397.92" y="242.8" width="3.5" height="0.26" fill="#9f9bd7"/>
<rect x="397.92" y="243.06" width="3.5" height="0.07" fill="#e08a4f"/>
<rect x="402.35" y="241.77" width="3.5" height="9.73" fill="#6fc7a1"/>
<rect x="402.35" y="241.35" width="3.5" height="0.34" fill="#9f9bd7"/>
<rect x="402.35" y="241.69" width="3.5" height="0.08" fill="#e08a4f"/>
<rect x="406.78" y="239.87" width="3.5" height="11.63" fill="#6fc7a1"/>
<rect x="406.78" y="239.32" width="3.5" height="0.45" fill="#9f9bd7"/>
<rect x="406.78" y="239.77" width="3.5" height="0.1" fill="#e08a4f"/>
<rect x="411.22" y="237.45" width="3.5" height="14.05" fill="#6fc7a1"/>
<rect x="411.22" y="236.71" width="3.5" height="0.62" fill="#9f9bd7"/>
<rect x="411.22" y="237.33" width="3.5" height="0.12" fill="#e08a4f"/>
<rect x="415.65" y="234.39" width="3.5" height="17.11" fill="#6fc7a1"/>
<rect x="415.65" y="233.23" width="3.5" height="1.01" fill="#9f9bd7"/>
<rect x="415.65" y="234.24" width="3.5" height="0.15" fill="#e08a4f"/>
<rect x="420.08" y="230.96" width="3.5" height="20.54" fill="#6fc7a1"/>
<rect x="420.08" y="229.17" width="3.5" height="1.61" fill="#9f9bd7"/>
<rect x="420.08" y="230.78" width="3.5" height="0.18" fill="#e08a4f"/>
<rect x="424.52" y="226.75" width="3.5" height="24.75" fill="#6fc7a1"/>
<rect x="424.52" y="224.24" width="3.5" height="2.29" fill="#9f9bd7"/>
<rect x="424.52" y="226.53" width="3.5" height="0.22" fill="#e08a4f"/>
<rect x="428.95" y="222.01" width="3.5" height="29.49" fill="#6fc7a1"/>
<rect x="428.95" y="218.73" width="3.5" height="3.01" fill="#9f9bd7"/>
<rect x="428.95" y="221.74" width="3.5" height="0.26" fill="#e08a4f"/>
<rect x="433.38" y="217.19" width="3.5" height="34.31" fill="#6fc7a1"/>
<rect x="433.38" y="213.22" width="3.5" height="3.67" fill="#9f9bd7"/>
<rect x="433.38" y="216.89" width="3.5" height="0.31" fill="#e08a4f"/>
<rect x="437.82" y="213.15" width="3.5" height="38.35" fill="#6fc7a1"/>
<rect x="437.82" y="208.58" width="3.5" height="4.23" fill="#9f9bd7"/>
<rect x="437.82" y="212.81" width="3.5" height="0.34" fill="#e08a4f"/>
<rect x="442.25" y="209.34" width="3.5" height="42.16" fill="#6fc7a1"/>
<rect x="442.25" y="204.23" width="3.5" height="4.73" fill="#9f9bd7"/>
<rect x="442.25" y="208.96" width="3.5" height="0.38" fill="#e08a4f"/>
<rect x="446.68" y="204.21" width="3.5" height="47.29" fill="#6fc7a1"/>
<rect x="446.68" y="198.43" width="3.5" height="5.35" fill="#9f9bd7"/>
<rect x="446.68" y="203.78" width="3.5" height="0.42" fill="#e08a4f"/>
<rect x="451.12" y="198.83" width="3.5" height="52.67" fill="#6fc7a1"/>
<rect x="451.12" y="192.34" width="3.5" height="6.02" fill="#9f9bd7"/>
<rect x="451.12" y="198.36" width="3.5" height="0.47" fill="#e08a4f"/>
<rect x="455.55" y="193.45" width="3.5" height="58.05" fill="#6fc7a1"/>
<rect x="455.55" y="186.25" width="3.5" height="6.68" fill="#9f9bd7"/>
<rect x="455.55" y="192.93" width="3.5" height="0.52" fill="#e08a4f"/>
<rect x="459.98" y="187.56" width="3.5" height="63.94" fill="#6fc7a1"/>
<rect x="459.98" y="179.58" width="3.5" height="7.4" fill="#9f9bd7"/>
<rect x="459.98" y="186.98" width="3.5" height="0.58" fill="#e08a4f"/>
<rect x="464.42" y="181.92" width="3.5" height="69.58" fill="#6fc7a1"/>
<rect x="464.42" y="173.2" width="3.5" height="8.1" fill="#9f9bd7"/>
<rect x="464.42" y="181.3" width="3.5" height="0.63" fill="#e08a4f"/>
<rect x="468.85" y="176.8" width="3.5" height="74.7" fill="#6fc7a1"/>
<rect x="468.85" y="167.4" width="3.5" height="8.72" fill="#9f9bd7"/>
<rect x="468.85" y="176.12" width="3.5" height="0.67" fill="#e08a4f"/>
<rect x="473.28" y="171.92" width="3.5" height="79.58" fill="#6fc7a1"/>
<rect x="473.28" y="161.89" width="3.5" height="9.33" fill="#9f9bd7"/>
<rect x="473.28" y="171.22" width="3.5" height="0.7" fill="#e08a4f"/>
<rect x="477.72" y="167.55" width="3.5" height="83.95" fill="#6fc7a1"/>
<rect x="477.72" y="156.96" width="3.5" height="9.89" fill="#9f9bd7"/>
<rect x="477.72" y="166.85" width="3.5" height="0.7" fill="#e08a4f"/>
<rect x="482.15" y="163.12" width="3.5" height="88.38" fill="#6fc7a1"/>
<rect x="482.15" y="152.03" width="3.5" height="10.4" fill="#9f9bd7"/>
<rect x="482.15" y="162.43" width="3.5" height="0.7" fill="#e08a4f"/>
<rect x="486.58" y="153.45" width="3.5" height="98.05" fill="#6fc7a1"/>
<rect x="486.58" y="141.3" width="3.5" height="11.46" fill="#9f9bd7"/>
<rect x="486.58" y="152.76" width="3.5" height="0.7" fill="#e08a4f"/>
<rect x="491.02" y="143.69" width="3.5" height="107.81" fill="#6fc7a1"/>
<rect x="491.02" y="130.57" width="3.5" height="12.43" fill="#9f9bd7"/>
<rect x="491.02" y="143" width="3.5" height="0.7" fill="#e08a4f"/>
<rect x="495.45" y="134.9" width="3.5" height="116.6" fill="#6fc7a1"/>
<rect x="495.45" y="121" width="3.5" height="13.21" fill="#9f9bd7"/>
<rect x="495.45" y="134.21" width="3.5" height="0.7" fill="#e08a4f"/>
<rect x="499.88" y="124.26" width="3.5" height="127.24" fill="#6fc7a1"/>
<rect x="499.88" y="109.4" width="3.5" height="14.17" fill="#9f9bd7"/>
<rect x="499.88" y="123.57" width="3.5" height="0.7" fill="#e08a4f"/>
<rect x="504.32" y="115.97" width="3.5" height="135.53" fill="#6fc7a1"/>
<rect x="504.32" y="100.41" width="3.5" height="14.87" fill="#9f9bd7"/>
<rect x="504.32" y="115.28" width="3.5" height="0.7" fill="#e08a4f"/>
<rect x="508.75" y="109.31" width="3.5" height="142.19" fill="#6fc7a1"/>
<rect x="508.75" y="93.16" width="3.5" height="15.45" fill="#9f9bd7"/>
<rect x="508.75" y="108.62" width="3.5" height="0.7" fill="#e08a4f"/>
<rect x="513.18" y="103.48" width="3.5" height="148.02" fill="#6fc7a1"/>
<rect x="513.18" y="86.78" width="3.5" height="16.01" fill="#9f9bd7"/>
<rect x="513.18" y="102.79" width="3.5" height="0.7" fill="#e08a4f"/>
<rect x="517.62" y="97.92" width="3.5" height="153.58" fill="#6fc7a1"/>
<rect x="517.62" y="80.69" width="3.5" height="16.53" fill="#9f9bd7"/>
<rect x="517.62" y="97.22" width="3.5" height="0.7" fill="#e08a4f"/>
<rect x="522.05" y="92.62" width="3.5" height="158.88" fill="#6fc7a1"/>
<rect x="522.05" y="74.89" width="3.5" height="17.04" fill="#9f9bd7"/>
<rect x="522.05" y="91.93" width="3.5" height="0.7" fill="#e08a4f"/>
<rect x="526.48" y="87.61" width="3.5" height="163.89" fill="#6fc7a1"/>
<rect x="526.48" y="69.38" width="3.5" height="17.54" fill="#9f9bd7"/>
<rect x="526.48" y="86.92" width="3.5" height="0.7" fill="#e08a4f"/>
<rect x="530.92" y="82.89" width="3.5" height="168.61" fill="#6fc7a1"/>
<rect x="530.92" y="64.16" width="3.5" height="18.04" fill="#9f9bd7"/>
<rect x="530.92" y="82.2" width="3.5" height="0.7" fill="#e08a4f"/>
<rect x="535.35" y="79.29" width="3.5" height="172.21" fill="#6fc7a1"/>
<rect x="535.35" y="60.1" width="3.5" height="18.49" fill="#9f9bd7"/>
<rect x="535.35" y="78.59" width="3.5" height="0.7" fill="#e08a4f"/>
<rect x="539.78" y="76.29" width="3.5" height="175.21" fill="#6fc7a1"/>
<rect x="539.78" y="56.62" width="3.5" height="18.97" fill="#9f9bd7"/>
<rect x="539.78" y="75.59" width="3.5" height="0.7" fill="#e08a4f"/>
<rect x="544.22" y="74.65" width="3.5" height="176.85" fill="#6fc7a1"/>
<rect x="544.22" y="54.59" width="3.5" height="19.37" fill="#9f9bd7"/>
<rect x="544.22" y="73.96" width="3.5" height="0.7" fill="#e08a4f"/>
<rect x="548.65" y="73.58" width="3.5" height="177.92" fill="#6fc7a1"/>
<rect x="548.65" y="53.14" width="3.5" height="19.74" fill="#9f9bd7"/>
<rect x="548.65" y="72.88" width="3.5" height="0.7" fill="#e08a4f"/>
<rect x="553.08" y="73.28" width="3.5" height="178.22" fill="#6fc7a1"/>
<rect x="553.08" y="52.56" width="3.5" height="20.03" fill="#9f9bd7"/>
<rect x="553.08" y="72.59" width="3.5" height="0.7" fill="#e08a4f"/>
<rect x="557.52" y="72.97" width="3.5" height="178.53" fill="#6fc7a1"/>
<rect x="557.52" y="51.98" width="3.5" height="20.29" fill="#9f9bd7"/>
<rect x="557.52" y="72.27" width="3.5" height="0.7" fill="#e08a4f"/>
<rect x="561.95" y="72.97" width="3.5" height="178.53" fill="#6fc7a1"/>
<rect x="561.95" y="51.81" width="3.5" height="20.47" fill="#9f9bd7"/>
<rect x="561.95" y="72.28" width="3.5" height="0.7" fill="#e08a4f"/>
<rect x="566.38" y="73.26" width="3.5" height="178.24" fill="#6fc7a1"/>
<rect x="566.38" y="51.98" width="3.5" height="20.58" fill="#9f9bd7"/>
<rect x="566.38" y="72.57" width="3.5" height="0.7" fill="#e08a4f"/>
<rect x="570.82" y="73.91" width="3.5" height="177.59" fill="#6fc7a1"/>
<rect x="570.82" y="52.56" width="3.5" height="20.66" fill="#9f9bd7"/>
<rect x="570.82" y="73.22" width="3.5" height="0.7" fill="#e08a4f"/>
<rect x="575.25" y="74.82" width="3.5" height="176.68" fill="#6fc7a1"/>
<rect x="575.25" y="53.43" width="3.5" height="20.7" fill="#9f9bd7"/>
<rect x="575.25" y="74.13" width="3.5" height="0.7" fill="#e08a4f"/>
<rect x="579.68" y="75.98" width="3.5" height="175.52" fill="#6fc7a1"/>
<rect x="579.68" y="54.59" width="3.5" height="20.7" fill="#9f9bd7"/>
<rect x="579.68" y="75.29" width="3.5" height="0.7" fill="#e08a4f"/>
<rect x="584.12" y="77.38" width="3.5" height="174.12" fill="#6fc7a1"/>
<rect x="584.12" y="56.04" width="3.5" height="20.64" fill="#9f9bd7"/>
<rect x="584.12" y="76.69" width="3.5" height="0.7" fill="#e08a4f"/>
<rect x="588.55" y="78.76" width="3.5" height="172.74" fill="#6fc7a1"/>
<rect x="588.55" y="57.49" width="3.5" height="20.57" fill="#9f9bd7"/>
<rect x="588.55" y="78.06" width="3.5" height="0.7" fill="#e08a4f"/>
<rect x="592.98" y="80.36" width="3.5" height="171.14" fill="#6fc7a1"/>
<rect x="592.98" y="59.23" width="3.5" height="20.43" fill="#9f9bd7"/>
<rect x="592.98" y="79.66" width="3.5" height="0.7" fill="#e08a4f"/>
<rect x="597.42" y="81.93" width="3.5" height="169.57" fill="#6fc7a1"/>
<rect x="597.42" y="60.97" width="3.5" height="20.26" fill="#9f9bd7"/>
<rect x="597.42" y="81.23" width="3.5" height="0.7" fill="#e08a4f"/>
<rect x="601.85" y="83.73" width="3.5" height="167.77" fill="#6fc7a1"/>
<rect x="601.85" y="63" width="3.5" height="20.03" fill="#9f9bd7"/>
<rect x="601.85" y="83.03" width="3.5" height="0.7" fill="#e08a4f"/>
<rect x="606.28" y="85.51" width="3.5" height="165.99" fill="#6fc7a1"/>
<rect x="606.28" y="65.03" width="3.5" height="19.78" fill="#9f9bd7"/>
<rect x="606.28" y="84.81" width="3.5" height="0.7" fill="#e08a4f"/>
<rect x="610.72" y="87.27" width="3.5" height="164.23" fill="#6fc7a1"/>
<rect x="610.72" y="67.06" width="3.5" height="19.52" fill="#9f9bd7"/>
<rect x="610.72" y="86.58" width="3.5" height="0.7" fill="#e08a4f"/>
<rect x="615.15" y="89.28" width="3.5" height="162.22" fill="#6fc7a1"/>
<rect x="615.15" y="69.38" width="3.5" height="19.2" fill="#9f9bd7"/>
<rect x="615.15" y="88.58" width="3.5" height="0.7" fill="#e08a4f"/>
<rect x="619.58" y="91.27" width="3.5" height="160.23" fill="#6fc7a1"/>
<rect x="619.58" y="71.7" width="3.5" height="18.87" fill="#9f9bd7"/>
<rect x="619.58" y="90.57" width="3.5" height="0.7" fill="#e08a4f"/>
<rect x="624.02" y="92.98" width="3.5" height="158.52" fill="#6fc7a1"/>
<rect x="624.02" y="73.73" width="3.5" height="18.55" fill="#9f9bd7"/>
<rect x="624.02" y="92.28" width="3.5" height="0.7" fill="#e08a4f"/>
<rect x="628.45" y="94.68" width="3.5" height="156.82" fill="#6fc7a1"/>
<rect x="628.45" y="75.76" width="3.5" height="18.22" fill="#9f9bd7"/>
<rect x="628.45" y="93.98" width="3.5" height="0.7" fill="#e08a4f"/>
<rect x="632.88" y="96.36" width="3.5" height="155.14" fill="#6fc7a1"/>
<rect x="632.88" y="77.79" width="3.5" height="17.87" fill="#9f9bd7"/>
<rect x="632.88" y="95.66" width="3.5" height="0.7" fill="#e08a4f"/>
<rect x="637.32" y="98.02" width="3.5" height="153.48" fill="#6fc7a1"/>
<rect x="637.32" y="79.82" width="3.5" height="17.5" fill="#9f9bd7"/>
<rect x="637.32" y="97.32" width="3.5" height="0.7" fill="#e08a4f"/>
<rect x="641.75" y="99.66" width="3.5" height="151.84" fill="#6fc7a1"/>
<rect x="641.75" y="81.85" width="3.5" height="17.12" fill="#9f9bd7"/>
<rect x="641.75" y="98.97" width="3.5" height="0.7" fill="#e08a4f"/>
<path d="M377.5 247.01 L378.61 246.96 L379.72 246.88 L380.82 246.79 L381.93 246.66 L383.04 246.52 L384.15 246.35 L385.26 246.16 L386.37 245.96 L387.48 245.73 L388.58 245.49 L389.69 245.24 L390.8 244.97 L391.91 244.69 L393.02 244.4 L394.12 244.1 L395.23 243.79 L396.34 243.48 L397.45 243.16 L398.56 242.84 L399.67 242.51 L400.77 242.16 L401.88 241.78 L402.99 241.35 L404.1 240.89 L405.21 240.4 L406.32 239.87 L407.43 239.31 L408.53 238.72 L409.64 238.11 L410.75 237.47 L411.86 236.81 L412.97 236.13 L414.07 235.4 L415.18 234.58 L416.29 233.7 L417.4 232.76 L418.51 231.77 L419.62 230.74 L420.73 229.68 L421.83 228.59 L422.94 227.44 L424.05 226.2 L425.16 224.9 L426.27 223.55 L427.38 222.17 L428.48 220.8 L429.59 219.45 L430.7 218.15 L431.81 216.9 L432.92 215.67 L434.02 214.46 L435.13 213.26 L436.24 212.07 L437.35 210.88 L438.46 209.68 L439.57 208.47 L440.68 207.24 L441.78 205.98 L442.89 204.69 L444 203.36 L445.11 201.99 L446.22 200.59 L447.32 199.15 L448.43 197.69 L449.54 196.2 L450.65 194.69 L451.76 193.16 L452.87 191.62 L453.98 190.07 L455.08 188.51 L456.19 186.95 L457.3 185.38 L458.41 183.79 L459.52 182.15 L460.62 180.48 L461.73 178.8 L462.84 177.13 L463.95 175.49 L465.06 173.88 L466.17 172.33 L467.27 170.82 L468.38 169.33 L469.49 167.86 L470.6 166.42 L471.71 165.01 L472.82 163.64 L473.93 162.31 L475.03 161.02 L476.14 159.81 L477.25 158.67 L478.36 157.54 L479.47 156.38 L480.57 155.26 L481.68 154.18 L482.79 152.96 L483.9 151.45 L485.01 149.24 L486.12 146.33 L487.23 143.16 L488.33 140.14 L489.44 137.35 L490.55 134.56 L491.66 131.81 L492.77 129.12 L493.88 126.48 L494.98 123.88 L496.09 121.31 L497.2 118.76 L498.31 116.24 L499.42 113.75 L500.52 111.27 L501.63 108.82 L502.74 106.38 L503.85 103.94 L504.96 101.53 L506.07 99.13 L507.17 96.77 L508.28 94.45 L509.39 92.18 L510.5 89.97 L511.61 87.78 L512.72 85.6 L513.83 83.43 L514.93 81.32 L516.04 79.26 L517.15 77.3 L518.26 75.45 L519.37 73.73 L520.48 72.11 L521.58 70.54 L522.69 69.02 L523.8 67.55 L524.91 66.12 L526.02 64.75 L527.12 63.42 L528.23 62.14 L529.34 60.91 L530.45 59.72 L531.56 58.58 L532.67 57.49 L533.77 56.43 L534.88 55.41 L535.99 54.42 L537.1 53.48 L538.21 52.58 L539.32 51.74 L540.42 50.96 L541.53 50.24 L542.64 49.56 L543.75 48.9 L544.86 48.25 L545.97 47.61 L547.08 47.01 L548.18 46.43 L549.29 45.89 L550.4 45.39 L551.51 44.93 L552.62 44.52 L553.73 44.16 L554.83 43.86 L555.94 43.59 L557.05 43.32 L558.16 43.06 L559.27 42.82 L560.38 42.58 L561.48 42.37 L562.59 42.18 L563.7 42.01 L564.81 41.87 L565.92 41.77 L567.02 41.71 L568.13 41.69 L569.24 41.7 L570.35 41.72 L571.46 41.77 L572.57 41.82 L573.67 41.89 L574.78 41.96 L575.89 42.04 L577 42.12 L578.11 42.21 L579.22 42.33 L580.33 42.47 L581.43 42.64 L582.54 42.82 L583.65 43.02 L584.76 43.23 L585.87 43.46 L586.98 43.7 L588.08 43.96 L589.19 44.22 L590.3 44.49 L591.41 44.77 L592.52 45.06 L593.62 45.34 L594.73 45.63 L595.84 45.92 L596.95 46.2 L598.06 46.48 L599.17 46.76 L600.27 47.04 L601.38 47.33 L602.49 47.62 L603.6 47.92 L604.71 48.23 L605.82 48.54 L606.92 48.87 L608.03 49.19 L609.14 49.53 L610.25 49.86 L611.36 50.21 L612.47 50.55 L613.58 50.9 L614.68 51.26 L615.79 51.62 L616.9 51.97 L618.01 52.34 L619.12 52.7 L620.23 53.06 L621.33 53.43 L622.44 53.8 L623.55 54.17 L624.66 54.55 L625.77 54.93 L626.88 55.31 L627.98 55.7 L629.09 56.1 L630.2 56.49 L631.31 56.9 L632.42 57.3 L633.53 57.71 L634.63 58.12 L635.74 58.54 L636.85 58.96 L637.96 59.38 L639.07 59.81 L640.17 60.24 L641.28 60.67 L642.39 61.11 L643.5 61.55" fill="none" stroke="#333" stroke-width="0.7"/>
<line x1="479.47" y1="17.5" x2="479.47" y2="251.5" stroke="#5a5a5a" stroke-width="0.8" stroke-dasharray="3.4 2.6"/>
</g>
<rect x="377.5" y="17.5" width="266" height="234" fill="none" stroke="#585858" stroke-width="1"/>
<line x1="399.67" y1="251.5" x2="399.67" y2="249.5" stroke="#585858" stroke-width="0.8"/>
<line x1="444" y1="251.5" x2="444" y2="249.5" stroke="#585858" stroke-width="0.8"/>
<line x1="488.33" y1="251.5" x2="488.33" y2="249.5" stroke="#585858" stroke-width="0.8"/>
<line x1="532.67" y1="251.5" x2="532.67" y2="249.5" stroke="#585858" stroke-width="0.8"/>
<line x1="577" y1="251.5" x2="577" y2="249.5" stroke="#585858" stroke-width="0.8"/>
<line x1="621.33" y1="251.5" x2="621.33" y2="249.5" stroke="#585858" stroke-width="0.8"/>
<line x1="377.5" y1="251.5" x2="377.5" y2="247.9" stroke="#585858" stroke-width="0.9"/>
<text x="377.5" y="265.9" font-size="12.2" text-anchor="middle">2000</text>
<line x1="421.83" y1="251.5" x2="421.83" y2="247.9" stroke="#585858" stroke-width="0.9"/>
<text x="421.83" y="265.9" font-size="12.2" text-anchor="middle">2010</text>
<line x1="466.17" y1="251.5" x2="466.17" y2="247.9" stroke="#585858" stroke-width="0.9"/>
<text x="466.17" y="265.9" font-size="12.2" text-anchor="middle">2020</text>
<line x1="510.5" y1="251.5" x2="510.5" y2="247.9" stroke="#585858" stroke-width="0.9"/>
<text x="510.5" y="265.9" font-size="12.2" text-anchor="middle">2030</text>
<line x1="554.83" y1="251.5" x2="554.83" y2="247.9" stroke="#585858" stroke-width="0.9"/>
<text x="554.83" y="265.9" font-size="12.2" text-anchor="middle">2040</text>
<line x1="599.17" y1="251.5" x2="599.17" y2="247.9" stroke="#585858" stroke-width="0.9"/>
<text x="599.17" y="265.9" font-size="12.2" text-anchor="middle">2050</text>
<line x1="643.5" y1="251.5" x2="643.5" y2="247.9" stroke="#585858" stroke-width="0.9"/>
<text x="643.5" y="265.9" font-size="12.2" text-anchor="middle">2060</text>
<line x1="377.5" y1="222.5" x2="379.5" y2="222.5" stroke="#585858" stroke-width="0.8"/>
<line x1="377.5" y1="164.5" x2="379.5" y2="164.5" stroke="#585858" stroke-width="0.8"/>
<line x1="377.5" y1="106.5" x2="379.5" y2="106.5" stroke="#585858" stroke-width="0.8"/>
<line x1="377.5" y1="48.5" x2="379.5" y2="48.5" stroke="#585858" stroke-width="0.8"/>
<line x1="377.5" y1="251.5" x2="381.1" y2="251.5" stroke="#585858" stroke-width="0.9"/>
<text x="372.9" y="255.8" font-size="12.2" text-anchor="end">0</text>
<line x1="377.5" y1="193.5" x2="381.1" y2="193.5" stroke="#585858" stroke-width="0.9"/>
<text x="372.9" y="197.8" font-size="12.2" text-anchor="end">200</text>
<line x1="377.5" y1="135.5" x2="381.1" y2="135.5" stroke="#585858" stroke-width="0.9"/>
<text x="372.9" y="139.8" font-size="12.2" text-anchor="end">400</text>
<line x1="377.5" y1="77.5" x2="381.1" y2="77.5" stroke="#585858" stroke-width="0.9"/>
<text x="372.9" y="81.8" font-size="12.2" text-anchor="end">600</text>
<line x1="377.5" y1="19.5" x2="381.1" y2="19.5" stroke="#585858" stroke-width="0.9"/>
<text x="372.9" y="23.8" font-size="12.2" text-anchor="end">800</text>
<text transform="translate(347.8 134.5) rotate(-90)" font-size="12.3" text-anchor="middle">Mobile air conditioning (Million units)</text>
<text x="510.5" y="285.5" font-size="12.3" text-anchor="middle">Year</text>
<text x="357.6" y="10.3" font-size="12.3">(b)</text>
<rect x="381.5" y="21.3" width="88" height="70.6" fill="#fff" stroke="#9a9a9a" stroke-width="0.8"/>
<rect x="383" y="23.2" width="24.9" height="11.9" fill="#9f9bd7"/>
<text x="411.3" y="33.1" font-size="11.3">Low_Truck</text>
<rect x="383" y="37" width="24.9" height="11.9" fill="#e08a4f"/>
<text x="411.3" y="46.85" font-size="11.3">Low_Bus</text>
<rect x="383" y="50.8" width="24.9" height="11.9" fill="#6fc7a1"/>
<text x="411.3" y="60.6" font-size="11.3">Low_Car</text>
<line x1="383" y1="70.4" x2="407.9" y2="70.4" stroke="#2a2a2a" stroke-width="0.8"/>
<text x="411.3" y="74.35" font-size="11.3">Mobile AC</text>
<rect x="383" y="78.4" width="24.9" height="11.9" fill="#dcdcdc"/>
<text x="411.3" y="88.1" font-size="11.3">Uncertainty</text>
</g>
<g id="panel-c">
<clipPath id="clipC"><rect x="46.5" y="320.5" width="266" height="235"/></clipPath>
<g clip-path="url(#clipC)">
<rect x="70.65" y="551.45" width="3.9" height="5.05" fill="#e8261f" stroke="#3c3838" stroke-width="0.7"/>
<rect x="70.65" y="551.24" width="3.9" height="0.21" fill="#4a86c1" stroke="#383c40" stroke-width="0.7"/>
<rect x="75.05" y="550.22" width="3.9" height="6.28" fill="#e8261f" stroke="#3c3838" stroke-width="0.7"/>
<rect x="75.05" y="549.96" width="3.9" height="0.26" fill="#4a86c1" stroke="#383c40" stroke-width="0.7"/>
<rect x="79.45" y="549.83" width="3.9" height="6.67" fill="#e8261f" stroke="#3c3838" stroke-width="0.7"/>
<rect x="79.45" y="549.54" width="3.9" height="0.3" fill="#4a86c1" stroke="#383c40" stroke-width="0.7"/>
<rect x="83.85" y="549.45" width="3.9" height="7.05" fill="#e8261f" stroke="#3c3838" stroke-width="0.7"/>
<rect x="83.85" y="549.11" width="3.9" height="0.34" fill="#4a86c1" stroke="#383c40" stroke-width="0.7"/>
<rect x="88.25" y="548.68" width="3.9" height="7.82" fill="#e8261f" stroke="#3c3838" stroke-width="0.7"/>
<rect x="88.25" y="548.26" width="3.9" height="0.43" fill="#4a86c1" stroke="#383c40" stroke-width="0.7"/>
<rect x="92.65" y="547.32" width="3.9" height="9.18" fill="#e8261f" stroke="#3c3838" stroke-width="0.7"/>
<rect x="92.65" y="546.72" width="3.9" height="0.6" fill="#4a86c1" stroke="#383c40" stroke-width="0.7"/>
<rect x="97.05" y="546.13" width="3.9" height="10.37" fill="#e8261f" stroke="#3c3838" stroke-width="0.7"/>
<rect x="97.05" y="545.28" width="3.9" height="0.85" fill="#4a86c1" stroke="#383c40" stroke-width="0.7"/>
<rect x="101.45" y="544.76" width="3.9" height="11.74" fill="#e8261f" stroke="#3c3838" stroke-width="0.7"/>
<rect x="101.45" y="543.57" width="3.9" height="1.19" fill="#4a86c1" stroke="#383c40" stroke-width="0.7"/>
<rect x="105.85" y="544" width="3.9" height="12.5" fill="#e8261f" stroke="#3c3838" stroke-width="0.7"/>
<rect x="105.85" y="542.51" width="3.9" height="1.49" fill="#4a86c1" stroke="#383c40" stroke-width="0.7"/>
<rect x="110.25" y="542.93" width="3.9" height="13.57" fill="#e8261f" stroke="#3c3838" stroke-width="0.7"/>
<rect x="110.25" y="541.01" width="3.9" height="1.92" fill="#4a86c1" stroke="#383c40" stroke-width="0.7"/>
<rect x="114.65" y="541.94" width="3.9" height="14.56" fill="#e8261f" stroke="#3c3838" stroke-width="0.7"/>
<rect x="114.65" y="539.74" width="3.9" height="2.2" fill="#4a86c1" stroke="#383c40" stroke-width="0.7"/>
<rect x="119.05" y="541" width="3.9" height="15.5" fill="#e8261f" stroke="#3c3838" stroke-width="0.7"/>
<rect x="119.05" y="537.82" width="3.9" height="3.18" fill="#4a86c1" stroke="#383c40" stroke-width="0.7"/>
<rect x="123.45" y="539.9" width="3.9" height="16.6" fill="#e8261f" stroke="#3c3838" stroke-width="0.7"/>
<rect x="123.45" y="535.9" width="3.9" height="4" fill="#4a86c1" stroke="#383c40" stroke-width="0.7"/>
<rect x="127.85" y="538.46" width="3.9" height="18.04" fill="#e8261f" stroke="#3c3838" stroke-width="0.7"/>
<rect x="127.85" y="533.77" width="3.9" height="4.69" fill="#4a86c1" stroke="#383c40" stroke-width="0.7"/>
<rect x="132.25" y="535.9" width="3.9" height="20.6" fill="#e8261f" stroke="#3c3838" stroke-width="0.7"/>
<rect x="132.25" y="530.79" width="3.9" height="5.11" fill="#4a86c1" stroke="#383c40" stroke-width="0.7"/>
<rect x="136.65" y="533.19" width="3.9" height="23.31" fill="#e8261f" stroke="#3c3838" stroke-width="0.7"/>
<rect x="136.65" y="527.38" width="3.9" height="5.81" fill="#4a86c1" stroke="#383c40" stroke-width="0.7"/>
<rect x="141.05" y="530.37" width="3.9" height="26.13" fill="#e8261f" stroke="#3c3838" stroke-width="0.7"/>
<rect x="141.05" y="523.55" width="3.9" height="6.83" fill="#4a86c1" stroke="#383c40" stroke-width="0.7"/>
<rect x="145.45" y="527.51" width="3.9" height="28.99" fill="#e8261f" stroke="#3c3838" stroke-width="0.7"/>
<rect x="145.45" y="519.71" width="3.9" height="7.8" fill="#4a86c1" stroke="#383c40" stroke-width="0.7"/>
<rect x="149.85" y="524.65" width="3.9" height="31.85" fill="#e8261f" stroke="#3c3838" stroke-width="0.7"/>
<rect x="149.85" y="515.45" width="3.9" height="9.2" fill="#4a86c1" stroke="#383c40" stroke-width="0.7"/>
<rect x="154.25" y="521.84" width="3.9" height="34.66" fill="#e8261f" stroke="#3c3838" stroke-width="0.7"/>
<rect x="154.25" y="511.62" width="3.9" height="10.22" fill="#4a86c1" stroke="#383c40" stroke-width="0.7"/>
<rect x="158.65" y="519.11" width="3.9" height="37.39" fill="#e8261f" stroke="#3c3838" stroke-width="0.7"/>
<rect x="158.65" y="507.78" width="3.9" height="11.33" fill="#4a86c1" stroke="#383c40" stroke-width="0.7"/>
<rect x="163.05" y="516.43" width="3.9" height="40.07" fill="#e8261f" stroke="#3c3838" stroke-width="0.7"/>
<rect x="163.05" y="503.74" width="3.9" height="12.69" fill="#4a86c1" stroke="#383c40" stroke-width="0.7"/>
<rect x="167.45" y="513.74" width="3.9" height="42.76" fill="#e8261f" stroke="#3c3838" stroke-width="0.7"/>
<rect x="167.45" y="499.69" width="3.9" height="14.05" fill="#4a86c1" stroke="#383c40" stroke-width="0.7"/>
<rect x="171.85" y="511.02" width="3.9" height="45.48" fill="#e8261f" stroke="#3c3838" stroke-width="0.7"/>
<rect x="171.85" y="495.43" width="3.9" height="15.59" fill="#4a86c1" stroke="#383c40" stroke-width="0.7"/>
<rect x="176.25" y="508.21" width="3.9" height="48.29" fill="#e8261f" stroke="#3c3838" stroke-width="0.7"/>
<rect x="176.25" y="491.17" width="3.9" height="17.04" fill="#4a86c1" stroke="#383c40" stroke-width="0.7"/>
<rect x="180.65" y="505.29" width="3.9" height="51.21" fill="#e8261f" stroke="#3c3838" stroke-width="0.7"/>
<rect x="180.65" y="486.7" width="3.9" height="18.59" fill="#4a86c1" stroke="#383c40" stroke-width="0.7"/>
<rect x="185.05" y="502.25" width="3.9" height="54.25" fill="#e8261f" stroke="#3c3838" stroke-width="0.7"/>
<rect x="185.05" y="482.22" width="3.9" height="20.02" fill="#4a86c1" stroke="#383c40" stroke-width="0.7"/>
<rect x="189.45" y="499.09" width="3.9" height="57.41" fill="#e8261f" stroke="#3c3838" stroke-width="0.7"/>
<rect x="189.45" y="477.88" width="3.9" height="21.21" fill="#4a86c1" stroke="#383c40" stroke-width="0.7"/>
<rect x="193.85" y="495.82" width="3.9" height="60.68" fill="#e8261f" stroke="#3c3838" stroke-width="0.7"/>
<rect x="193.85" y="473.15" width="3.9" height="22.68" fill="#4a86c1" stroke="#383c40" stroke-width="0.7"/>
<rect x="198.25" y="492.45" width="3.9" height="64.05" fill="#e8261f" stroke="#3c3838" stroke-width="0.7"/>
<rect x="198.25" y="468.84" width="3.9" height="23.6" fill="#4a86c1" stroke="#383c40" stroke-width="0.7"/>
<rect x="202.65" y="488.96" width="3.9" height="67.54" fill="#e8261f" stroke="#3c3838" stroke-width="0.7"/>
<rect x="202.65" y="464.37" width="3.9" height="24.59" fill="#4a86c1" stroke="#383c40" stroke-width="0.7"/>
<rect x="207.05" y="485.37" width="3.9" height="71.13" fill="#e8261f" stroke="#3c3838" stroke-width="0.7"/>
<rect x="207.05" y="460.03" width="3.9" height="25.34" fill="#4a86c1" stroke="#383c40" stroke-width="0.7"/>
<rect x="211.45" y="481.69" width="3.9" height="74.81" fill="#e8261f" stroke="#3c3838" stroke-width="0.7"/>
<rect x="211.45" y="455.3" width="3.9" height="26.4" fill="#4a86c1" stroke="#383c40" stroke-width="0.7"/>
<rect x="215.85" y="477.94" width="3.9" height="78.56" fill="#e8261f" stroke="#3c3838" stroke-width="0.7"/>
<rect x="215.85" y="450.57" width="3.9" height="27.37" fill="#4a86c1" stroke="#383c40" stroke-width="0.7"/>
<rect x="220.25" y="474.13" width="3.9" height="82.37" fill="#e8261f" stroke="#3c3838" stroke-width="0.7"/>
<rect x="220.25" y="446.09" width="3.9" height="28.03" fill="#4a86c1" stroke="#383c40" stroke-width="0.7"/>
<rect x="224.65" y="470.23" width="3.9" height="86.27" fill="#e8261f" stroke="#3c3838" stroke-width="0.7"/>
<rect x="224.65" y="441.32" width="3.9" height="28.91" fill="#4a86c1" stroke="#383c40" stroke-width="0.7"/>
<rect x="229.05" y="466.23" width="3.9" height="90.27" fill="#e8261f" stroke="#3c3838" stroke-width="0.7"/>
<rect x="229.05" y="436.34" width="3.9" height="29.89" fill="#4a86c1" stroke="#383c40" stroke-width="0.7"/>
<rect x="233.45" y="462.17" width="3.9" height="94.33" fill="#e8261f" stroke="#3c3838" stroke-width="0.7"/>
<rect x="233.45" y="431.24" width="3.9" height="30.93" fill="#4a86c1" stroke="#383c40" stroke-width="0.7"/>
<rect x="237.85" y="458.06" width="3.9" height="98.44" fill="#e8261f" stroke="#3c3838" stroke-width="0.7"/>
<rect x="237.85" y="426.07" width="3.9" height="31.99" fill="#4a86c1" stroke="#383c40" stroke-width="0.7"/>
<rect x="242.25" y="453.93" width="3.9" height="102.57" fill="#e8261f" stroke="#3c3838" stroke-width="0.7"/>
<rect x="242.25" y="420.87" width="3.9" height="33.06" fill="#4a86c1" stroke="#383c40" stroke-width="0.7"/>
<rect x="246.65" y="449.8" width="3.9" height="106.7" fill="#e8261f" stroke="#3c3838" stroke-width="0.7"/>
<rect x="246.65" y="415.65" width="3.9" height="34.15" fill="#4a86c1" stroke="#383c40" stroke-width="0.7"/>
<rect x="251.05" y="445.61" width="3.9" height="110.89" fill="#e8261f" stroke="#3c3838" stroke-width="0.7"/>
<rect x="251.05" y="410.37" width="3.9" height="35.23" fill="#4a86c1" stroke="#383c40" stroke-width="0.7"/>
<rect x="255.45" y="441.32" width="3.9" height="115.18" fill="#e8261f" stroke="#3c3838" stroke-width="0.7"/>
<rect x="255.45" y="405.07" width="3.9" height="36.25" fill="#4a86c1" stroke="#383c40" stroke-width="0.7"/>
<rect x="259.85" y="436.91" width="3.9" height="119.59" fill="#e8261f" stroke="#3c3838" stroke-width="0.7"/>
<rect x="259.85" y="399.76" width="3.9" height="37.16" fill="#4a86c1" stroke="#383c40" stroke-width="0.7"/>
<rect x="264.25" y="432.38" width="3.9" height="124.12" fill="#e8261f" stroke="#3c3838" stroke-width="0.7"/>
<rect x="264.25" y="394.46" width="3.9" height="37.92" fill="#4a86c1" stroke="#383c40" stroke-width="0.7"/>
<rect x="268.65" y="427.75" width="3.9" height="128.75" fill="#e8261f" stroke="#3c3838" stroke-width="0.7"/>
<rect x="268.65" y="389.19" width="3.9" height="38.56" fill="#4a86c1" stroke="#383c40" stroke-width="0.7"/>
<rect x="273.05" y="423.06" width="3.9" height="133.44" fill="#e8261f" stroke="#3c3838" stroke-width="0.7"/>
<rect x="273.05" y="383.93" width="3.9" height="39.12" fill="#4a86c1" stroke="#383c40" stroke-width="0.7"/>
<rect x="277.45" y="418.29" width="3.9" height="138.21" fill="#e8261f" stroke="#3c3838" stroke-width="0.7"/>
<rect x="277.45" y="378.67" width="3.9" height="39.62" fill="#4a86c1" stroke="#383c40" stroke-width="0.7"/>
<rect x="281.85" y="413.45" width="3.9" height="143.05" fill="#e8261f" stroke="#3c3838" stroke-width="0.7"/>
<rect x="281.85" y="373.38" width="3.9" height="40.07" fill="#4a86c1" stroke="#383c40" stroke-width="0.7"/>
<rect x="286.25" y="408.52" width="3.9" height="147.98" fill="#e8261f" stroke="#3c3838" stroke-width="0.7"/>
<rect x="286.25" y="368.05" width="3.9" height="40.47" fill="#4a86c1" stroke="#383c40" stroke-width="0.7"/>
<rect x="290.65" y="403.5" width="3.9" height="153" fill="#e8261f" stroke="#3c3838" stroke-width="0.7"/>
<rect x="290.65" y="362.66" width="3.9" height="40.84" fill="#4a86c1" stroke="#383c40" stroke-width="0.7"/>
<rect x="295.05" y="398.39" width="3.9" height="158.11" fill="#e8261f" stroke="#3c3838" stroke-width="0.7"/>
<rect x="295.05" y="357.24" width="3.9" height="41.14" fill="#4a86c1" stroke="#383c40" stroke-width="0.7"/>
<rect x="299.45" y="393.19" width="3.9" height="163.31" fill="#e8261f" stroke="#3c3838" stroke-width="0.7"/>
<rect x="299.45" y="351.79" width="3.9" height="41.4" fill="#4a86c1" stroke="#383c40" stroke-width="0.7"/>
<rect x="303.85" y="387.9" width="3.9" height="168.6" fill="#e8261f" stroke="#3c3838" stroke-width="0.7"/>
<rect x="303.85" y="346.3" width="3.9" height="41.6" fill="#4a86c1" stroke="#383c40" stroke-width="0.7"/>
<rect x="308.25" y="382.53" width="3.9" height="173.97" fill="#e8261f" stroke="#3c3838" stroke-width="0.7"/>
<rect x="308.25" y="340.78" width="3.9" height="41.75" fill="#4a86c1" stroke="#383c40" stroke-width="0.7"/>
<line x1="129.8" y1="320.5" x2="129.8" y2="555.5" stroke="#5a5a5a" stroke-width="0.8" stroke-dasharray="3.4 2.6"/>
</g>
<rect x="46.5" y="320.5" width="266" height="235" fill="none" stroke="#585858" stroke-width="1"/>
<line x1="68.2" y1="555.5" x2="68.2" y2="553.5" stroke="#585858" stroke-width="0.8"/>
<line x1="112.2" y1="555.5" x2="112.2" y2="553.5" stroke="#585858" stroke-width="0.8"/>
<line x1="156.2" y1="555.5" x2="156.2" y2="553.5" stroke="#585858" stroke-width="0.8"/>
<line x1="200.2" y1="555.5" x2="200.2" y2="553.5" stroke="#585858" stroke-width="0.8"/>
<line x1="244.2" y1="555.5" x2="244.2" y2="553.5" stroke="#585858" stroke-width="0.8"/>
<line x1="288.2" y1="555.5" x2="288.2" y2="553.5" stroke="#585858" stroke-width="0.8"/>
<line x1="46.2" y1="555.5" x2="46.2" y2="551.9" stroke="#585858" stroke-width="0.9"/>
<text x="46.2" y="569.9" font-size="12.2" text-anchor="middle">2000</text>
<line x1="90.2" y1="555.5" x2="90.2" y2="551.9" stroke="#585858" stroke-width="0.9"/>
<text x="90.2" y="569.9" font-size="12.2" text-anchor="middle">2010</text>
<line x1="134.2" y1="555.5" x2="134.2" y2="551.9" stroke="#585858" stroke-width="0.9"/>
<text x="134.2" y="569.9" font-size="12.2" text-anchor="middle">2020</text>
<line x1="178.2" y1="555.5" x2="178.2" y2="551.9" stroke="#585858" stroke-width="0.9"/>
<text x="178.2" y="569.9" font-size="12.2" text-anchor="middle">2030</text>
<line x1="222.2" y1="555.5" x2="222.2" y2="551.9" stroke="#585858" stroke-width="0.9"/>
<text x="222.2" y="569.9" font-size="12.2" text-anchor="middle">2040</text>
<line x1="266.2" y1="555.5" x2="266.2" y2="551.9" stroke="#585858" stroke-width="0.9"/>
<text x="266.2" y="569.9" font-size="12.2" text-anchor="middle">2050</text>
<line x1="310.2" y1="555.5" x2="310.2" y2="551.9" stroke="#585858" stroke-width="0.9"/>
<text x="310.2" y="569.9" font-size="12.2" text-anchor="middle">2060</text>
<line x1="46.5" y1="534.2" x2="48.5" y2="534.2" stroke="#585858" stroke-width="0.8"/>
<line x1="46.5" y1="491.59" x2="48.5" y2="491.59" stroke="#585858" stroke-width="0.8"/>
<line x1="46.5" y1="448.99" x2="48.5" y2="448.99" stroke="#585858" stroke-width="0.8"/>
<line x1="46.5" y1="406.39" x2="48.5" y2="406.39" stroke="#585858" stroke-width="0.8"/>
<line x1="46.5" y1="363.78" x2="48.5" y2="363.78" stroke="#585858" stroke-width="0.8"/>
<line x1="46.5" y1="555.5" x2="50.1" y2="555.5" stroke="#585858" stroke-width="0.9"/>
<text x="41.9" y="559.8" font-size="12.2" text-anchor="end">0</text>
<line x1="46.5" y1="512.9" x2="50.1" y2="512.9" stroke="#585858" stroke-width="0.9"/>
<text x="41.9" y="517.2" font-size="12.2" text-anchor="end">100</text>
<line x1="46.5" y1="470.29" x2="50.1" y2="470.29" stroke="#585858" stroke-width="0.9"/>
<text x="41.9" y="474.59" font-size="12.2" text-anchor="end">200</text>
<line x1="46.5" y1="427.69" x2="50.1" y2="427.69" stroke="#585858" stroke-width="0.9"/>
<text x="41.9" y="431.99" font-size="12.2" text-anchor="end">300</text>
<line x1="46.5" y1="385.09" x2="50.1" y2="385.09" stroke="#585858" stroke-width="0.9"/>
<text x="41.9" y="389.39" font-size="12.2" text-anchor="end">400</text>
<line x1="46.5" y1="342.48" x2="50.1" y2="342.48" stroke="#585858" stroke-width="0.9"/>
<text x="41.9" y="346.78" font-size="12.2" text-anchor="end">500</text>
<text transform="translate(15.8 438) rotate(-90)" font-size="12.3" text-anchor="middle">Comercial air conditioning (Million units)</text>
<text x="179.5" y="589.5" font-size="12.3" text-anchor="middle">Year</text>
<text x="26" y="313.9" font-size="12.3">(c)</text>
<rect x="55.3" y="329.4" width="167.8" height="69.9" fill="#fff" stroke="#9a9a9a" stroke-width="0.8"/>
<rect x="57.4" y="331.5" width="24.6" height="11.4" fill="#f08327" stroke="#8a4a14" stroke-width="0.8"/>
<text x="85.3" y="340.6" font-size="11.3">Water-cooled Screw Chiller</text>
<rect x="57.4" y="345.22" width="24.6" height="11.4" fill="#994db3" stroke="#50285e" stroke-width="0.8"/>
<text x="85.3" y="354.32" font-size="11.3">Air-cooled Screw Chiller</text>
<rect x="57.4" y="358.94" width="24.6" height="11.4" fill="#5fc055" stroke="#2f6a2a" stroke-width="0.8"/>
<text x="85.3" y="368.04" font-size="11.3">Centrifugal Chiller</text>
<rect x="57.4" y="372.66" width="24.6" height="11.4" fill="#4a86c1" stroke="#243f5c" stroke-width="0.8"/>
<text x="85.3" y="381.76" font-size="11.3">VRF</text>
<rect x="57.4" y="386.38" width="24.6" height="11.4" fill="#e8261f" stroke="#7a1a16" stroke-width="0.8"/>
<text x="85.3" y="395.48" font-size="11.3">Unitary</text>
</g>
<g id="panel-d">
<clipPath id="clipD"><rect x="377.5" y="320.5" width="266" height="235"/></clipPath>
<g clip-path="url(#clipD)">
<rect x="415.56" y="554.94" width="3.68" height="1.56" fill="#3a70dc"/>
<rect x="415.56" y="554.94" width="3.68" height="1.56" fill="none" stroke="#4c505a" stroke-width="0.68"/>
<rect x="419.99" y="554.16" width="3.68" height="2.34" fill="#3a70dc"/>
<rect x="419.99" y="554.16" width="3.68" height="2.34" fill="none" stroke="#4c505a" stroke-width="0.68"/>
<rect x="424.43" y="553.04" width="3.68" height="3.46" fill="#3a70dc"/>
<rect x="424.43" y="553.04" width="3.68" height="3.46" fill="none" stroke="#4c505a" stroke-width="0.68"/>
<rect x="428.86" y="551.36" width="3.68" height="5.14" fill="#3a70dc"/>
<rect x="428.86" y="555.05" width="3.68" height="0.22" fill="#a01512"/>
<rect x="428.86" y="551.36" width="3.68" height="5.14" fill="none" stroke="#4c505a" stroke-width="0.68"/>
<rect x="433.29" y="547.34" width="3.68" height="9.16" fill="#3a70dc"/>
<rect x="433.29" y="555.27" width="3.68" height="0.16" fill="#ee8122"/>
<rect x="433.29" y="555.11" width="3.68" height="0.16" fill="#ad5f1c"/>
<rect x="433.29" y="554.72" width="3.68" height="0.39" fill="#a01512"/>
<rect x="433.29" y="547.34" width="3.68" height="9.16" fill="none" stroke="#4c505a" stroke-width="0.68"/>
<rect x="437.73" y="543.2" width="3.68" height="13.3" fill="#3a70dc"/>
<rect x="437.73" y="555.13" width="3.68" height="0.25" fill="#ee8122"/>
<rect x="437.73" y="554.89" width="3.68" height="0.25" fill="#ad5f1c"/>
<rect x="437.73" y="554.27" width="3.68" height="0.61" fill="#a01512"/>
<rect x="437.73" y="543.2" width="3.68" height="13.3" fill="none" stroke="#4c505a" stroke-width="0.68"/>
<rect x="442.16" y="538.95" width="3.68" height="17.55" fill="#3a70dc"/>
<rect x="442.16" y="555.32" width="3.68" height="0.13" fill="#4ee022"/>
<rect x="442.16" y="554.96" width="3.68" height="0.36" fill="#ee8122"/>
<rect x="442.16" y="554.61" width="3.68" height="0.36" fill="#ad5f1c"/>
<rect x="442.16" y="553.71" width="3.68" height="0.89" fill="#a01512"/>
<rect x="442.16" y="538.95" width="3.68" height="17.55" fill="none" stroke="#4c505a" stroke-width="0.68"/>
<rect x="446.59" y="534.59" width="3.68" height="21.91" fill="#3a70dc"/>
<rect x="446.59" y="555.25" width="3.68" height="0.17" fill="#4ee022"/>
<rect x="446.59" y="554.76" width="3.68" height="0.49" fill="#ee8122"/>
<rect x="446.59" y="554.27" width="3.68" height="0.49" fill="#ad5f1c"/>
<rect x="446.59" y="553.04" width="3.68" height="1.23" fill="#a01512"/>
<line x1="446.59" y1="553.04" x2="450.27" y2="553.04" stroke="#1c2030" stroke-opacity="0.45" stroke-width="0.35"/>
<rect x="446.59" y="534.59" width="3.68" height="21.91" fill="none" stroke="#4c505a" stroke-width="0.68"/>
<rect x="451.03" y="529.79" width="3.68" height="26.71" fill="#3a70dc"/>
<rect x="451.03" y="555.12" width="3.68" height="0.27" fill="#4ee022"/>
<rect x="451.03" y="554.36" width="3.68" height="0.76" fill="#ee8122"/>
<rect x="451.03" y="553.6" width="3.68" height="0.76" fill="#ad5f1c"/>
<rect x="451.03" y="551.7" width="3.68" height="1.9" fill="#a01512"/>
<line x1="451.03" y1="551.7" x2="454.71" y2="551.7" stroke="#1c2030" stroke-opacity="0.45" stroke-width="0.35"/>
<rect x="451.03" y="529.79" width="3.68" height="26.71" fill="none" stroke="#4c505a" stroke-width="0.68"/>
<rect x="455.46" y="524.31" width="3.68" height="32.19" fill="#3a70dc"/>
<rect x="455.46" y="555.35" width="3.68" height="0.15" fill="#f0f46e"/>
<rect x="455.46" y="555.01" width="3.68" height="0.34" fill="#4ee022"/>
<rect x="455.46" y="554.02" width="3.68" height="0.98" fill="#ee8122"/>
<line x1="455.46" y1="554.02" x2="459.14" y2="554.02" stroke="#1c2030" stroke-opacity="0.45" stroke-width="0.35"/>
<rect x="455.46" y="553.04" width="3.68" height="0.98" fill="#ad5f1c"/>
<line x1="455.46" y1="553.04" x2="459.14" y2="553.04" stroke="#1c2030" stroke-opacity="0.45" stroke-width="0.35"/>
<rect x="455.46" y="550.58" width="3.68" height="2.46" fill="#a01512"/>
<line x1="455.46" y1="550.58" x2="459.14" y2="550.58" stroke="#1c2030" stroke-opacity="0.45" stroke-width="0.35"/>
<rect x="455.46" y="524.31" width="3.68" height="32.19" fill="none" stroke="#4c505a" stroke-width="0.68"/>
<rect x="459.89" y="520.28" width="3.68" height="36.22" fill="#3a70dc"/>
<rect x="459.89" y="555.33" width="3.68" height="0.17" fill="#f0f46e"/>
<rect x="459.89" y="554.92" width="3.68" height="0.41" fill="#4ee022"/>
<rect x="459.89" y="553.76" width="3.68" height="1.16" fill="#ee8122"/>
<line x1="459.89" y1="553.76" x2="463.57" y2="553.76" stroke="#1c2030" stroke-opacity="0.45" stroke-width="0.35"/>
<rect x="459.89" y="552.59" width="3.68" height="1.16" fill="#ad5f1c"/>
<line x1="459.89" y1="552.59" x2="463.57" y2="552.59" stroke="#1c2030" stroke-opacity="0.45" stroke-width="0.35"/>
<rect x="459.89" y="549.69" width="3.68" height="2.91" fill="#a01512"/>
<line x1="459.89" y1="549.69" x2="463.57" y2="549.69" stroke="#1c2030" stroke-opacity="0.45" stroke-width="0.35"/>
<rect x="459.89" y="520.28" width="3.68" height="36.22" fill="none" stroke="#4c505a" stroke-width="0.68"/>
<rect x="464.33" y="515.7" width="3.68" height="40.8" fill="#3a70dc"/>
<rect x="464.33" y="555.32" width="3.68" height="0.18" fill="#f0f46e"/>
<rect x="464.33" y="554.89" width="3.68" height="0.43" fill="#4ee022"/>
<rect x="464.33" y="553.66" width="3.68" height="1.23" fill="#ee8122"/>
<line x1="464.33" y1="553.66" x2="468.01" y2="553.66" stroke="#1c2030" stroke-opacity="0.45" stroke-width="0.35"/>
<rect x="464.33" y="552.43" width="3.68" height="1.23" fill="#ad5f1c"/>
<line x1="464.33" y1="552.43" x2="468.01" y2="552.43" stroke="#1c2030" stroke-opacity="0.45" stroke-width="0.35"/>
<rect x="464.33" y="549.35" width="3.68" height="3.07" fill="#a01512"/>
<line x1="464.33" y1="549.35" x2="468.01" y2="549.35" stroke="#1c2030" stroke-opacity="0.45" stroke-width="0.35"/>
<rect x="464.33" y="515.7" width="3.68" height="40.8" fill="none" stroke="#4c505a" stroke-width="0.68"/>
<rect x="468.76" y="510.22" width="3.68" height="46.28" fill="#3a70dc"/>
<rect x="468.76" y="555.33" width="3.68" height="0.17" fill="#f0f46e"/>
<rect x="468.76" y="554.9" width="3.68" height="0.43" fill="#4ee022"/>
<rect x="468.76" y="553.78" width="3.68" height="1.12" fill="#ee8122"/>
<line x1="468.76" y1="553.78" x2="472.44" y2="553.78" stroke="#1c2030" stroke-opacity="0.45" stroke-width="0.35"/>
<rect x="468.76" y="552.66" width="3.68" height="1.12" fill="#ad5f1c"/>
<line x1="468.76" y1="552.66" x2="472.44" y2="552.66" stroke="#1c2030" stroke-opacity="0.45" stroke-width="0.35"/>
<rect x="468.76" y="550.16" width="3.68" height="2.5" fill="#a01512"/>
<line x1="468.76" y1="550.16" x2="472.44" y2="550.16" stroke="#1c2030" stroke-opacity="0.45" stroke-width="0.35"/>
<rect x="468.76" y="549.9" width="3.68" height="0.26" fill="#c4e4fb"/>
<rect x="468.76" y="548.61" width="3.68" height="1.29" fill="#7ab7f4"/>
<line x1="468.76" y1="548.61" x2="472.44" y2="548.61" stroke="#1c2030" stroke-opacity="0.45" stroke-width="0.35"/>
<rect x="468.76" y="546.89" width="3.68" height="1.72" fill="#bb66ee"/>
<line x1="468.76" y1="546.89" x2="472.44" y2="546.89" stroke="#1c2030" stroke-opacity="0.45" stroke-width="0.35"/>
<rect x="468.76" y="510.22" width="3.68" height="46.28" fill="none" stroke="#4c505a" stroke-width="0.68"/>
<rect x="473.19" y="505.41" width="3.68" height="51.09" fill="#3a70dc"/>
<rect x="473.19" y="555.34" width="3.68" height="0.16" fill="#f0f46e"/>
<rect x="473.19" y="554.84" width="3.68" height="0.5" fill="#4ee022"/>
<rect x="473.19" y="553.74" width="3.68" height="1.1" fill="#ee8122"/>
<line x1="473.19" y1="553.74" x2="476.87" y2="553.74" stroke="#1c2030" stroke-opacity="0.45" stroke-width="0.35"/>
<rect x="473.19" y="552.64" width="3.68" height="1.1" fill="#ad5f1c"/>
<line x1="473.19" y1="552.64" x2="476.87" y2="552.64" stroke="#1c2030" stroke-opacity="0.45" stroke-width="0.35"/>
<rect x="473.19" y="550.25" width="3.68" height="2.38" fill="#a01512"/>
<line x1="473.19" y1="550.25" x2="476.87" y2="550.25" stroke="#1c2030" stroke-opacity="0.45" stroke-width="0.35"/>
<rect x="473.19" y="549.83" width="3.68" height="0.42" fill="#c4e4fb"/>
<rect x="473.19" y="548.33" width="3.68" height="1.5" fill="#7ab7f4"/>
<line x1="473.19" y1="548.33" x2="476.87" y2="548.33" stroke="#1c2030" stroke-opacity="0.45" stroke-width="0.35"/>
<rect x="473.19" y="546.33" width="3.68" height="1.99" fill="#bb66ee"/>
<line x1="473.19" y1="546.33" x2="476.87" y2="546.33" stroke="#1c2030" stroke-opacity="0.45" stroke-width="0.35"/>
<rect x="473.19" y="505.41" width="3.68" height="51.09" fill="none" stroke="#4c505a" stroke-width="0.68"/>
<rect x="477.63" y="501.39" width="3.68" height="55.11" fill="#3a70dc"/>
<rect x="477.63" y="555.36" width="3.68" height="0.14" fill="#f0f46e"/>
<rect x="477.63" y="554.78" width="3.68" height="0.58" fill="#4ee022"/>
<rect x="477.63" y="553.72" width="3.68" height="1.06" fill="#ee8122"/>
<line x1="477.63" y1="553.72" x2="481.31" y2="553.72" stroke="#1c2030" stroke-opacity="0.45" stroke-width="0.35"/>
<rect x="477.63" y="552.66" width="3.68" height="1.06" fill="#ad5f1c"/>
<line x1="477.63" y1="552.66" x2="481.31" y2="552.66" stroke="#1c2030" stroke-opacity="0.45" stroke-width="0.35"/>
<rect x="477.63" y="550.45" width="3.68" height="2.21" fill="#a01512"/>
<line x1="477.63" y1="550.45" x2="481.31" y2="550.45" stroke="#1c2030" stroke-opacity="0.45" stroke-width="0.35"/>
<rect x="477.63" y="549.85" width="3.68" height="0.6" fill="#c4e4fb"/>
<rect x="477.63" y="548.14" width="3.68" height="1.71" fill="#7ab7f4"/>
<line x1="477.63" y1="548.14" x2="481.31" y2="548.14" stroke="#1c2030" stroke-opacity="0.45" stroke-width="0.35"/>
<rect x="477.63" y="545.89" width="3.68" height="2.26" fill="#bb66ee"/>
<line x1="477.63" y1="545.89" x2="481.31" y2="545.89" stroke="#1c2030" stroke-opacity="0.45" stroke-width="0.35"/>
<rect x="477.63" y="501.39" width="3.68" height="55.11" fill="none" stroke="#4c505a" stroke-width="0.68"/>
<rect x="482.06" y="495.91" width="3.68" height="60.59" fill="#3a70dc"/>
<rect x="482.06" y="555.38" width="3.68" height="0.12" fill="#f0f46e"/>
<rect x="482.06" y="554.75" width="3.68" height="0.63" fill="#4ee022"/>
<rect x="482.06" y="553.77" width="3.68" height="0.97" fill="#ee8122"/>
<line x1="482.06" y1="553.77" x2="485.74" y2="553.77" stroke="#1c2030" stroke-opacity="0.45" stroke-width="0.35"/>
<rect x="482.06" y="552.8" width="3.68" height="0.97" fill="#ad5f1c"/>
<line x1="482.06" y1="552.8" x2="485.74" y2="552.8" stroke="#1c2030" stroke-opacity="0.45" stroke-width="0.35"/>
<rect x="482.06" y="550.86" width="3.68" height="1.95" fill="#a01512"/>
<line x1="482.06" y1="550.86" x2="485.74" y2="550.86" stroke="#1c2030" stroke-opacity="0.45" stroke-width="0.35"/>
<rect x="482.06" y="550.09" width="3.68" height="0.77" fill="#c4e4fb"/>
<rect x="482.06" y="548.23" width="3.68" height="1.86" fill="#7ab7f4"/>
<line x1="482.06" y1="548.23" x2="485.74" y2="548.23" stroke="#1c2030" stroke-opacity="0.45" stroke-width="0.35"/>
<rect x="482.06" y="545.77" width="3.68" height="2.46" fill="#bb66ee"/>
<line x1="482.06" y1="545.77" x2="485.74" y2="545.77" stroke="#1c2030" stroke-opacity="0.45" stroke-width="0.35"/>
<rect x="482.06" y="495.91" width="3.68" height="60.59" fill="none" stroke="#4c505a" stroke-width="0.68"/>
<rect x="486.49" y="492.45" width="3.68" height="64.05" fill="#3a70dc"/>
<rect x="486.49" y="554.63" width="3.68" height="0.76" fill="#4ee022"/>
<rect x="486.49" y="553.66" width="3.68" height="0.98" fill="#ee8122"/>
<line x1="486.49" y1="553.66" x2="490.17" y2="553.66" stroke="#1c2030" stroke-opacity="0.45" stroke-width="0.35"/>
<rect x="486.49" y="552.68" width="3.68" height="0.98" fill="#ad5f1c"/>
<line x1="486.49" y1="552.68" x2="490.17" y2="552.68" stroke="#1c2030" stroke-opacity="0.45" stroke-width="0.35"/>
<rect x="486.49" y="550.84" width="3.68" height="1.84" fill="#a01512"/>
<line x1="486.49" y1="550.84" x2="490.17" y2="550.84" stroke="#1c2030" stroke-opacity="0.45" stroke-width="0.35"/>
<rect x="486.49" y="549.81" width="3.68" height="1.03" fill="#c4e4fb"/>
<line x1="486.49" y1="549.81" x2="490.17" y2="549.81" stroke="#1c2030" stroke-opacity="0.45" stroke-width="0.35"/>
<rect x="486.49" y="547.58" width="3.68" height="2.22" fill="#7ab7f4"/>
<line x1="486.49" y1="547.58" x2="490.17" y2="547.58" stroke="#1c2030" stroke-opacity="0.45" stroke-width="0.35"/>
<rect x="486.49" y="544.66" width="3.68" height="2.93" fill="#bb66ee"/>
<line x1="486.49" y1="544.66" x2="490.17" y2="544.66" stroke="#1c2030" stroke-opacity="0.45" stroke-width="0.35"/>
<rect x="486.49" y="492.45" width="3.68" height="64.05" fill="none" stroke="#4c505a" stroke-width="0.68"/>
<rect x="490.93" y="486.97" width="3.68" height="69.53" fill="#3a70dc"/>
<rect x="490.93" y="554.6" width="3.68" height="0.79" fill="#4ee022"/>
<rect x="490.93" y="553.65" width="3.68" height="0.95" fill="#ee8122"/>
<line x1="490.93" y1="553.65" x2="494.61" y2="553.65" stroke="#1c2030" stroke-opacity="0.45" stroke-width="0.35"/>
<rect x="490.93" y="552.7" width="3.68" height="0.95" fill="#ad5f1c"/>
<line x1="490.93" y1="552.7" x2="494.61" y2="552.7" stroke="#1c2030" stroke-opacity="0.45" stroke-width="0.35"/>
<rect x="490.93" y="550.84" width="3.68" height="1.85" fill="#a01512"/>
<line x1="490.93" y1="550.84" x2="494.61" y2="550.84" stroke="#1c2030" stroke-opacity="0.45" stroke-width="0.35"/>
<rect x="490.93" y="549.74" width="3.68" height="1.11" fill="#c4e4fb"/>
<line x1="490.93" y1="549.74" x2="494.61" y2="549.74" stroke="#1c2030" stroke-opacity="0.45" stroke-width="0.35"/>
<rect x="490.93" y="547.39" width="3.68" height="2.34" fill="#7ab7f4"/>
<line x1="490.93" y1="547.39" x2="494.61" y2="547.39" stroke="#1c2030" stroke-opacity="0.45" stroke-width="0.35"/>
<rect x="490.93" y="544.54" width="3.68" height="2.85" fill="#bb66ee"/>
<line x1="490.93" y1="544.54" x2="494.61" y2="544.54" stroke="#1c2030" stroke-opacity="0.45" stroke-width="0.35"/>
<rect x="490.93" y="486.97" width="3.68" height="69.53" fill="none" stroke="#4c505a" stroke-width="0.68"/>
<rect x="495.36" y="481.71" width="3.68" height="74.79" fill="#3a70dc"/>
<rect x="495.36" y="554.57" width="3.68" height="0.82" fill="#4ee022"/>
<rect x="495.36" y="553.64" width="3.68" height="0.93" fill="#ee8122"/>
<line x1="495.36" y1="553.64" x2="499.04" y2="553.64" stroke="#1c2030" stroke-opacity="0.45" stroke-width="0.35"/>
<rect x="495.36" y="552.71" width="3.68" height="0.93" fill="#ad5f1c"/>
<line x1="495.36" y1="552.71" x2="499.04" y2="552.71" stroke="#1c2030" stroke-opacity="0.45" stroke-width="0.35"/>
<rect x="495.36" y="550.85" width="3.68" height="1.86" fill="#a01512"/>
<line x1="495.36" y1="550.85" x2="499.04" y2="550.85" stroke="#1c2030" stroke-opacity="0.45" stroke-width="0.35"/>
<rect x="495.36" y="549.67" width="3.68" height="1.18" fill="#c4e4fb"/>
<line x1="495.36" y1="549.67" x2="499.04" y2="549.67" stroke="#1c2030" stroke-opacity="0.45" stroke-width="0.35"/>
<rect x="495.36" y="547.2" width="3.68" height="2.47" fill="#7ab7f4"/>
<line x1="495.36" y1="547.2" x2="499.04" y2="547.2" stroke="#1c2030" stroke-opacity="0.45" stroke-width="0.35"/>
<rect x="495.36" y="544.43" width="3.68" height="2.77" fill="#bb66ee"/>
<line x1="495.36" y1="544.43" x2="499.04" y2="544.43" stroke="#1c2030" stroke-opacity="0.45" stroke-width="0.35"/>
<rect x="495.36" y="481.71" width="3.68" height="74.79" fill="none" stroke="#4c505a" stroke-width="0.68"/>
<rect x="499.79" y="475.56" width="3.68" height="80.94" fill="#3a70dc"/>
<rect x="499.79" y="555.37" width="3.68" height="0.13" fill="#f0f46e"/>
<rect x="499.79" y="554.38" width="3.68" height="0.99" fill="#4ee022"/>
<line x1="499.79" y1="554.38" x2="503.47" y2="554.38" stroke="#1c2030" stroke-opacity="0.45" stroke-width="0.35"/>
<rect x="499.79" y="553.33" width="3.68" height="1.05" fill="#ee8122"/>
<line x1="499.79" y1="553.33" x2="503.47" y2="553.33" stroke="#1c2030" stroke-opacity="0.45" stroke-width="0.35"/>
<rect x="499.79" y="552.28" width="3.68" height="1.05" fill="#ad5f1c"/>
<line x1="499.79" y1="552.28" x2="503.47" y2="552.28" stroke="#1c2030" stroke-opacity="0.45" stroke-width="0.35"/>
<rect x="499.79" y="550.12" width="3.68" height="2.17" fill="#a01512"/>
<line x1="499.79" y1="550.12" x2="503.47" y2="550.12" stroke="#1c2030" stroke-opacity="0.45" stroke-width="0.35"/>
<rect x="499.79" y="548.65" width="3.68" height="1.47" fill="#c4e4fb"/>
<line x1="499.79" y1="548.65" x2="503.47" y2="548.65" stroke="#1c2030" stroke-opacity="0.45" stroke-width="0.35"/>
<rect x="499.79" y="545.64" width="3.68" height="3.01" fill="#7ab7f4"/>
<line x1="499.79" y1="545.64" x2="503.47" y2="545.64" stroke="#1c2030" stroke-opacity="0.45" stroke-width="0.35"/>
<rect x="499.79" y="542.53" width="3.68" height="3.11" fill="#bb66ee"/>
<line x1="499.79" y1="542.53" x2="503.47" y2="542.53" stroke="#1c2030" stroke-opacity="0.45" stroke-width="0.35"/>
<rect x="499.79" y="475.56" width="3.68" height="80.94" fill="none" stroke="#4c505a" stroke-width="0.68"/>
<rect x="504.23" y="471.65" width="3.68" height="84.85" fill="#3a70dc"/>
<rect x="504.23" y="555.35" width="3.68" height="0.15" fill="#f0f46e"/>
<rect x="504.23" y="554.19" width="3.68" height="1.16" fill="#4ee022"/>
<line x1="504.23" y1="554.19" x2="507.91" y2="554.19" stroke="#1c2030" stroke-opacity="0.45" stroke-width="0.35"/>
<rect x="504.23" y="553.03" width="3.68" height="1.16" fill="#ee8122"/>
<line x1="504.23" y1="553.03" x2="507.91" y2="553.03" stroke="#1c2030" stroke-opacity="0.45" stroke-width="0.35"/>
<rect x="504.23" y="551.87" width="3.68" height="1.16" fill="#ad5f1c"/>
<line x1="504.23" y1="551.87" x2="507.91" y2="551.87" stroke="#1c2030" stroke-opacity="0.45" stroke-width="0.35"/>
<rect x="504.23" y="549.4" width="3.68" height="2.47" fill="#a01512"/>
<line x1="504.23" y1="549.4" x2="507.91" y2="549.4" stroke="#1c2030" stroke-opacity="0.45" stroke-width="0.35"/>
<rect x="504.23" y="547.63" width="3.68" height="1.77" fill="#c4e4fb"/>
<line x1="504.23" y1="547.63" x2="507.91" y2="547.63" stroke="#1c2030" stroke-opacity="0.45" stroke-width="0.35"/>
<rect x="504.23" y="544.05" width="3.68" height="3.58" fill="#7ab7f4"/>
<line x1="504.23" y1="544.05" x2="507.91" y2="544.05" stroke="#1c2030" stroke-opacity="0.45" stroke-width="0.35"/>
<rect x="504.23" y="540.63" width="3.68" height="3.42" fill="#bb66ee"/>
<line x1="504.23" y1="540.63" x2="507.91" y2="540.63" stroke="#1c2030" stroke-opacity="0.45" stroke-width="0.35"/>
<rect x="504.23" y="471.65" width="3.68" height="84.85" fill="none" stroke="#4c505a" stroke-width="0.68"/>
<rect x="508.66" y="467.4" width="3.68" height="89.1" fill="#3a70dc"/>
<rect x="508.66" y="555.35" width="3.68" height="0.15" fill="#f0f46e"/>
<rect x="508.66" y="554.15" width="3.68" height="1.2" fill="#4ee022"/>
<line x1="508.66" y1="554.15" x2="512.34" y2="554.15" stroke="#1c2030" stroke-opacity="0.45" stroke-width="0.35"/>
<rect x="508.66" y="553.03" width="3.68" height="1.12" fill="#ee8122"/>
<line x1="508.66" y1="553.03" x2="512.34" y2="553.03" stroke="#1c2030" stroke-opacity="0.45" stroke-width="0.35"/>
<rect x="508.66" y="551.9" width="3.68" height="1.12" fill="#ad5f1c"/>
<line x1="508.66" y1="551.9" x2="512.34" y2="551.9" stroke="#1c2030" stroke-opacity="0.45" stroke-width="0.35"/>
<rect x="508.66" y="549.43" width="3.68" height="2.47" fill="#a01512"/>
<line x1="508.66" y1="549.43" x2="512.34" y2="549.43" stroke="#1c2030" stroke-opacity="0.45" stroke-width="0.35"/>
<rect x="508.66" y="547.56" width="3.68" height="1.87" fill="#c4e4fb"/>
<line x1="508.66" y1="547.56" x2="512.34" y2="547.56" stroke="#1c2030" stroke-opacity="0.45" stroke-width="0.35"/>
<rect x="508.66" y="543.81" width="3.68" height="3.75" fill="#7ab7f4"/>
<line x1="508.66" y1="543.81" x2="512.34" y2="543.81" stroke="#1c2030" stroke-opacity="0.45" stroke-width="0.35"/>
<rect x="508.66" y="540.52" width="3.68" height="3.3" fill="#bb66ee"/>
<line x1="508.66" y1="540.52" x2="512.34" y2="540.52" stroke="#1c2030" stroke-opacity="0.45" stroke-width="0.35"/>
<rect x="508.66" y="467.4" width="3.68" height="89.1" fill="none" stroke="#4c505a" stroke-width="0.68"/>
<rect x="513.09" y="463.83" width="3.68" height="92.67" fill="#3a70dc"/>
<rect x="513.09" y="555.34" width="3.68" height="0.16" fill="#f0f46e"/>
<rect x="513.09" y="554.07" width="3.68" height="1.27" fill="#4ee022"/>
<line x1="513.09" y1="554.07" x2="516.77" y2="554.07" stroke="#1c2030" stroke-opacity="0.45" stroke-width="0.35"/>
<rect x="513.09" y="552.86" width="3.68" height="1.21" fill="#ee8122"/>
<line x1="513.09" y1="552.86" x2="516.77" y2="552.86" stroke="#1c2030" stroke-opacity="0.45" stroke-width="0.35"/>
<rect x="513.09" y="551.66" width="3.68" height="1.21" fill="#ad5f1c"/>
<line x1="513.09" y1="551.66" x2="516.77" y2="551.66" stroke="#1c2030" stroke-opacity="0.45" stroke-width="0.35"/>
<rect x="513.09" y="549.15" width="3.68" height="2.51" fill="#a01512"/>
<line x1="513.09" y1="549.15" x2="516.77" y2="549.15" stroke="#1c2030" stroke-opacity="0.45" stroke-width="0.35"/>
<rect x="513.09" y="547.05" width="3.68" height="2.1" fill="#c4e4fb"/>
<line x1="513.09" y1="547.05" x2="516.77" y2="547.05" stroke="#1c2030" stroke-opacity="0.45" stroke-width="0.35"/>
<rect x="513.09" y="543.18" width="3.68" height="3.87" fill="#7ab7f4"/>
<line x1="513.09" y1="543.18" x2="516.77" y2="543.18" stroke="#1c2030" stroke-opacity="0.45" stroke-width="0.35"/>
<rect x="513.09" y="539.62" width="3.68" height="3.56" fill="#bb66ee"/>
<line x1="513.09" y1="539.62" x2="516.77" y2="539.62" stroke="#1c2030" stroke-opacity="0.45" stroke-width="0.35"/>
<rect x="513.09" y="463.83" width="3.68" height="92.67" fill="none" stroke="#4c505a" stroke-width="0.68"/>
<rect x="517.53" y="458.68" width="3.68" height="97.82" fill="#3a70dc"/>
<rect x="517.53" y="555.34" width="3.68" height="0.16" fill="#f0f46e"/>
<rect x="517.53" y="554.06" width="3.68" height="1.28" fill="#4ee022"/>
<line x1="517.53" y1="554.06" x2="521.21" y2="554.06" stroke="#1c2030" stroke-opacity="0.45" stroke-width="0.35"/>
<rect x="517.53" y="552.83" width="3.68" height="1.23" fill="#ee8122"/>
<line x1="517.53" y1="552.83" x2="521.21" y2="552.83" stroke="#1c2030" stroke-opacity="0.45" stroke-width="0.35"/>
<rect x="517.53" y="551.6" width="3.68" height="1.23" fill="#ad5f1c"/>
<line x1="517.53" y1="551.6" x2="521.21" y2="551.6" stroke="#1c2030" stroke-opacity="0.45" stroke-width="0.35"/>
<rect x="517.53" y="549.19" width="3.68" height="2.41" fill="#a01512"/>
<line x1="517.53" y1="549.19" x2="521.21" y2="549.19" stroke="#1c2030" stroke-opacity="0.45" stroke-width="0.35"/>
<rect x="517.53" y="546.96" width="3.68" height="2.22" fill="#c4e4fb"/>
<line x1="517.53" y1="546.96" x2="521.21" y2="546.96" stroke="#1c2030" stroke-opacity="0.45" stroke-width="0.35"/>
<rect x="517.53" y="543.16" width="3.68" height="3.8" fill="#7ab7f4"/>
<line x1="517.53" y1="543.16" x2="521.21" y2="543.16" stroke="#1c2030" stroke-opacity="0.45" stroke-width="0.35"/>
<rect x="517.53" y="539.51" width="3.68" height="3.65" fill="#bb66ee"/>
<line x1="517.53" y1="539.51" x2="521.21" y2="539.51" stroke="#1c2030" stroke-opacity="0.45" stroke-width="0.35"/>
<rect x="517.53" y="458.68" width="3.68" height="97.82" fill="none" stroke="#4c505a" stroke-width="0.68"/>
<rect x="521.96" y="455.44" width="3.68" height="101.06" fill="#3a70dc"/>
<rect x="521.96" y="555.33" width="3.68" height="0.17" fill="#f0f46e"/>
<rect x="521.96" y="553.94" width="3.68" height="1.39" fill="#4ee022"/>
<line x1="521.96" y1="553.94" x2="525.64" y2="553.94" stroke="#1c2030" stroke-opacity="0.45" stroke-width="0.35"/>
<rect x="521.96" y="552.59" width="3.68" height="1.35" fill="#ee8122"/>
<line x1="521.96" y1="552.59" x2="525.64" y2="552.59" stroke="#1c2030" stroke-opacity="0.45" stroke-width="0.35"/>
<rect x="521.96" y="551.24" width="3.68" height="1.35" fill="#ad5f1c"/>
<line x1="521.96" y1="551.24" x2="525.64" y2="551.24" stroke="#1c2030" stroke-opacity="0.45" stroke-width="0.35"/>
<rect x="521.96" y="548.74" width="3.68" height="2.5" fill="#a01512"/>
<line x1="521.96" y1="548.74" x2="525.64" y2="548.74" stroke="#1c2030" stroke-opacity="0.45" stroke-width="0.35"/>
<rect x="521.96" y="546.21" width="3.68" height="2.53" fill="#c4e4fb"/>
<line x1="521.96" y1="546.21" x2="525.64" y2="546.21" stroke="#1c2030" stroke-opacity="0.45" stroke-width="0.35"/>
<rect x="521.96" y="542.19" width="3.68" height="4.02" fill="#7ab7f4"/>
<line x1="521.96" y1="542.19" x2="525.64" y2="542.19" stroke="#1c2030" stroke-opacity="0.45" stroke-width="0.35"/>
<rect x="521.96" y="538.17" width="3.68" height="4.02" fill="#bb66ee"/>
<line x1="521.96" y1="538.17" x2="525.64" y2="538.17" stroke="#1c2030" stroke-opacity="0.45" stroke-width="0.35"/>
<rect x="521.96" y="455.44" width="3.68" height="101.06" fill="none" stroke="#4c505a" stroke-width="0.68"/>
<rect x="526.39" y="448.62" width="3.68" height="107.88" fill="#3a70dc"/>
<rect x="526.39" y="555.33" width="3.68" height="0.17" fill="#f0f46e"/>
<rect x="526.39" y="553.93" width="3.68" height="1.4" fill="#4ee022"/>
<line x1="526.39" y1="553.93" x2="530.07" y2="553.93" stroke="#1c2030" stroke-opacity="0.45" stroke-width="0.35"/>
<rect x="526.39" y="552.55" width="3.68" height="1.38" fill="#ee8122"/>
<line x1="526.39" y1="552.55" x2="530.07" y2="552.55" stroke="#1c2030" stroke-opacity="0.45" stroke-width="0.35"/>
<rect x="526.39" y="551.17" width="3.68" height="1.38" fill="#ad5f1c"/>
<line x1="526.39" y1="551.17" x2="530.07" y2="551.17" stroke="#1c2030" stroke-opacity="0.45" stroke-width="0.35"/>
<rect x="526.39" y="548.79" width="3.68" height="2.39" fill="#a01512"/>
<line x1="526.39" y1="548.79" x2="530.07" y2="548.79" stroke="#1c2030" stroke-opacity="0.45" stroke-width="0.35"/>
<rect x="526.39" y="546.12" width="3.68" height="2.67" fill="#c4e4fb"/>
<line x1="526.39" y1="546.12" x2="530.07" y2="546.12" stroke="#1c2030" stroke-opacity="0.45" stroke-width="0.35"/>
<rect x="526.39" y="542.18" width="3.68" height="3.94" fill="#7ab7f4"/>
<line x1="526.39" y1="542.18" x2="530.07" y2="542.18" stroke="#1c2030" stroke-opacity="0.45" stroke-width="0.35"/>
<rect x="526.39" y="538.06" width="3.68" height="4.12" fill="#bb66ee"/>
<line x1="526.39" y1="538.06" x2="530.07" y2="538.06" stroke="#1c2030" stroke-opacity="0.45" stroke-width="0.35"/>
<rect x="526.39" y="448.62" width="3.68" height="107.88" fill="none" stroke="#4c505a" stroke-width="0.68"/>
<rect x="530.83" y="444.48" width="3.68" height="112.02" fill="#3a70dc"/>
<rect x="530.83" y="555.3" width="3.68" height="0.2" fill="#f0f46e"/>
<rect x="530.83" y="553.71" width="3.68" height="1.59" fill="#4ee022"/>
<line x1="530.83" y1="553.71" x2="534.51" y2="553.71" stroke="#1c2030" stroke-opacity="0.45" stroke-width="0.35"/>
<rect x="530.83" y="552.12" width="3.68" height="1.59" fill="#ee8122"/>
<line x1="530.83" y1="552.12" x2="534.51" y2="552.12" stroke="#1c2030" stroke-opacity="0.45" stroke-width="0.35"/>
<rect x="530.83" y="550.52" width="3.68" height="1.59" fill="#ad5f1c"/>
<line x1="530.83" y1="550.52" x2="534.51" y2="550.52" stroke="#1c2030" stroke-opacity="0.45" stroke-width="0.35"/>
<rect x="530.83" y="547.94" width="3.68" height="2.59" fill="#a01512"/>
<line x1="530.83" y1="547.94" x2="534.51" y2="547.94" stroke="#1c2030" stroke-opacity="0.45" stroke-width="0.35"/>
<rect x="530.83" y="544.75" width="3.68" height="3.18" fill="#c4e4fb"/>
<line x1="530.83" y1="544.75" x2="534.51" y2="544.75" stroke="#1c2030" stroke-opacity="0.45" stroke-width="0.35"/>
<rect x="530.83" y="540.38" width="3.68" height="4.38" fill="#7ab7f4"/>
<line x1="530.83" y1="540.38" x2="534.51" y2="540.38" stroke="#1c2030" stroke-opacity="0.45" stroke-width="0.35"/>
<rect x="530.83" y="535.6" width="3.68" height="4.78" fill="#bb66ee"/>
<line x1="530.83" y1="535.6" x2="534.51" y2="535.6" stroke="#1c2030" stroke-opacity="0.45" stroke-width="0.35"/>
<rect x="530.83" y="444.48" width="3.68" height="112.02" fill="none" stroke="#4c505a" stroke-width="0.68"/>
<rect x="535.26" y="439.45" width="3.68" height="117.05" fill="#3a70dc"/>
<rect x="535.26" y="555.29" width="3.68" height="0.21" fill="#f0f46e"/>
<rect x="535.26" y="553.62" width="3.68" height="1.67" fill="#4ee022"/>
<line x1="535.26" y1="553.62" x2="538.94" y2="553.62" stroke="#1c2030" stroke-opacity="0.45" stroke-width="0.35"/>
<rect x="535.26" y="551.96" width="3.68" height="1.66" fill="#ee8122"/>
<line x1="535.26" y1="551.96" x2="538.94" y2="551.96" stroke="#1c2030" stroke-opacity="0.45" stroke-width="0.35"/>
<rect x="535.26" y="550.26" width="3.68" height="1.69" fill="#ad5f1c"/>
<line x1="535.26" y1="550.26" x2="538.94" y2="550.26" stroke="#1c2030" stroke-opacity="0.45" stroke-width="0.35"/>
<rect x="535.26" y="547.55" width="3.68" height="2.71" fill="#a01512"/>
<line x1="535.26" y1="547.55" x2="538.94" y2="547.55" stroke="#1c2030" stroke-opacity="0.45" stroke-width="0.35"/>
<rect x="535.26" y="544.21" width="3.68" height="3.34" fill="#c4e4fb"/>
<line x1="535.26" y1="544.21" x2="538.94" y2="544.21" stroke="#1c2030" stroke-opacity="0.45" stroke-width="0.35"/>
<rect x="535.26" y="539.59" width="3.68" height="4.62" fill="#7ab7f4"/>
<line x1="535.26" y1="539.59" x2="538.94" y2="539.59" stroke="#1c2030" stroke-opacity="0.45" stroke-width="0.35"/>
<rect x="535.26" y="534.48" width="3.68" height="5.1" fill="#bb66ee"/>
<line x1="535.26" y1="534.48" x2="538.94" y2="534.48" stroke="#1c2030" stroke-opacity="0.45" stroke-width="0.35"/>
<rect x="535.26" y="439.45" width="3.68" height="117.05" fill="none" stroke="#4c505a" stroke-width="0.68"/>
<rect x="539.69" y="436.43" width="3.68" height="120.07" fill="#3a70dc"/>
<rect x="539.69" y="555.28" width="3.68" height="0.22" fill="#f0f46e"/>
<rect x="539.69" y="553.54" width="3.68" height="1.74" fill="#4ee022"/>
<line x1="539.69" y1="553.54" x2="543.37" y2="553.54" stroke="#1c2030" stroke-opacity="0.45" stroke-width="0.35"/>
<rect x="539.69" y="551.82" width="3.68" height="1.73" fill="#ee8122"/>
<line x1="539.69" y1="551.82" x2="543.37" y2="551.82" stroke="#1c2030" stroke-opacity="0.45" stroke-width="0.35"/>
<rect x="539.69" y="550.03" width="3.68" height="1.79" fill="#ad5f1c"/>
<line x1="539.69" y1="550.03" x2="543.37" y2="550.03" stroke="#1c2030" stroke-opacity="0.45" stroke-width="0.35"/>
<rect x="539.69" y="547.21" width="3.68" height="2.82" fill="#a01512"/>
<line x1="539.69" y1="547.21" x2="543.37" y2="547.21" stroke="#1c2030" stroke-opacity="0.45" stroke-width="0.35"/>
<rect x="539.69" y="543.73" width="3.68" height="3.48" fill="#c4e4fb"/>
<line x1="539.69" y1="543.73" x2="543.37" y2="543.73" stroke="#1c2030" stroke-opacity="0.45" stroke-width="0.35"/>
<rect x="539.69" y="538.88" width="3.68" height="4.85" fill="#7ab7f4"/>
<line x1="539.69" y1="538.88" x2="543.37" y2="538.88" stroke="#1c2030" stroke-opacity="0.45" stroke-width="0.35"/>
<rect x="539.69" y="533.48" width="3.68" height="5.41" fill="#bb66ee"/>
<line x1="539.69" y1="533.48" x2="543.37" y2="533.48" stroke="#1c2030" stroke-opacity="0.45" stroke-width="0.35"/>
<rect x="539.69" y="436.43" width="3.68" height="120.07" fill="none" stroke="#4c505a" stroke-width="0.68"/>
<rect x="544.13" y="432.52" width="3.68" height="123.98" fill="#3a70dc"/>
<rect x="544.13" y="555.28" width="3.68" height="0.22" fill="#f0f46e"/>
<rect x="544.13" y="553.54" width="3.68" height="1.74" fill="#4ee022"/>
<line x1="544.13" y1="553.54" x2="547.81" y2="553.54" stroke="#1c2030" stroke-opacity="0.45" stroke-width="0.35"/>
<rect x="544.13" y="551.81" width="3.68" height="1.73" fill="#ee8122"/>
<line x1="544.13" y1="551.81" x2="547.81" y2="551.81" stroke="#1c2030" stroke-opacity="0.45" stroke-width="0.35"/>
<rect x="544.13" y="549.99" width="3.68" height="1.82" fill="#ad5f1c"/>
<line x1="544.13" y1="549.99" x2="547.81" y2="549.99" stroke="#1c2030" stroke-opacity="0.45" stroke-width="0.35"/>
<rect x="544.13" y="547.17" width="3.68" height="2.83" fill="#a01512"/>
<line x1="544.13" y1="547.17" x2="547.81" y2="547.17" stroke="#1c2030" stroke-opacity="0.45" stroke-width="0.35"/>
<rect x="544.13" y="543.67" width="3.68" height="3.49" fill="#c4e4fb"/>
<line x1="544.13" y1="543.67" x2="547.81" y2="543.67" stroke="#1c2030" stroke-opacity="0.45" stroke-width="0.35"/>
<rect x="544.13" y="538.78" width="3.68" height="4.89" fill="#7ab7f4"/>
<line x1="544.13" y1="538.78" x2="547.81" y2="538.78" stroke="#1c2030" stroke-opacity="0.45" stroke-width="0.35"/>
<rect x="544.13" y="533.25" width="3.68" height="5.53" fill="#bb66ee"/>
<line x1="544.13" y1="533.25" x2="547.81" y2="533.25" stroke="#1c2030" stroke-opacity="0.45" stroke-width="0.35"/>
<rect x="544.13" y="432.52" width="3.68" height="123.98" fill="none" stroke="#4c505a" stroke-width="0.68"/>
<rect x="548.56" y="428.83" width="3.68" height="127.67" fill="#3a70dc"/>
<rect x="548.56" y="555.26" width="3.68" height="0.24" fill="#f0f46e"/>
<rect x="548.56" y="553.43" width="3.68" height="1.83" fill="#4ee022"/>
<line x1="548.56" y1="553.43" x2="552.24" y2="553.43" stroke="#1c2030" stroke-opacity="0.45" stroke-width="0.35"/>
<rect x="548.56" y="551.62" width="3.68" height="1.81" fill="#ee8122"/>
<line x1="548.56" y1="551.62" x2="552.24" y2="551.62" stroke="#1c2030" stroke-opacity="0.45" stroke-width="0.35"/>
<rect x="548.56" y="549.68" width="3.68" height="1.94" fill="#ad5f1c"/>
<line x1="548.56" y1="549.68" x2="552.24" y2="549.68" stroke="#1c2030" stroke-opacity="0.45" stroke-width="0.35"/>
<rect x="548.56" y="546.71" width="3.68" height="2.97" fill="#a01512"/>
<line x1="548.56" y1="546.71" x2="552.24" y2="546.71" stroke="#1c2030" stroke-opacity="0.45" stroke-width="0.35"/>
<rect x="548.56" y="543.03" width="3.68" height="3.68" fill="#c4e4fb"/>
<line x1="548.56" y1="543.03" x2="552.24" y2="543.03" stroke="#1c2030" stroke-opacity="0.45" stroke-width="0.35"/>
<rect x="548.56" y="537.84" width="3.68" height="5.19" fill="#7ab7f4"/>
<line x1="548.56" y1="537.84" x2="552.24" y2="537.84" stroke="#1c2030" stroke-opacity="0.45" stroke-width="0.35"/>
<rect x="548.56" y="531.91" width="3.68" height="5.93" fill="#bb66ee"/>
<line x1="548.56" y1="531.91" x2="552.24" y2="531.91" stroke="#1c2030" stroke-opacity="0.45" stroke-width="0.35"/>
<rect x="548.56" y="428.83" width="3.68" height="127.67" fill="none" stroke="#4c505a" stroke-width="0.68"/>
<rect x="552.99" y="424.92" width="3.68" height="131.58" fill="#3a70dc"/>
<rect x="552.99" y="555.26" width="3.68" height="0.24" fill="#f0f46e"/>
<rect x="552.99" y="553.42" width="3.68" height="1.84" fill="#4ee022"/>
<line x1="552.99" y1="553.42" x2="556.67" y2="553.42" stroke="#1c2030" stroke-opacity="0.45" stroke-width="0.35"/>
<rect x="552.99" y="551.6" width="3.68" height="1.82" fill="#ee8122"/>
<line x1="552.99" y1="551.6" x2="556.67" y2="551.6" stroke="#1c2030" stroke-opacity="0.45" stroke-width="0.35"/>
<rect x="552.99" y="549.61" width="3.68" height="1.99" fill="#ad5f1c"/>
<line x1="552.99" y1="549.61" x2="556.67" y2="549.61" stroke="#1c2030" stroke-opacity="0.45" stroke-width="0.35"/>
<rect x="552.99" y="546.62" width="3.68" height="2.99" fill="#a01512"/>
<line x1="552.99" y1="546.62" x2="556.67" y2="546.62" stroke="#1c2030" stroke-opacity="0.45" stroke-width="0.35"/>
<rect x="552.99" y="542.92" width="3.68" height="3.71" fill="#c4e4fb"/>
<line x1="552.99" y1="542.92" x2="556.67" y2="542.92" stroke="#1c2030" stroke-opacity="0.45" stroke-width="0.35"/>
<rect x="552.99" y="537.65" width="3.68" height="5.26" fill="#7ab7f4"/>
<line x1="552.99" y1="537.65" x2="556.67" y2="537.65" stroke="#1c2030" stroke-opacity="0.45" stroke-width="0.35"/>
<rect x="552.99" y="531.58" width="3.68" height="6.08" fill="#bb66ee"/>
<line x1="552.99" y1="531.58" x2="556.67" y2="531.58" stroke="#1c2030" stroke-opacity="0.45" stroke-width="0.35"/>
<rect x="552.99" y="424.92" width="3.68" height="131.58" fill="none" stroke="#4c505a" stroke-width="0.68"/>
<rect x="557.43" y="420.67" width="3.68" height="135.83" fill="#3a70dc"/>
<rect x="557.43" y="555.24" width="3.68" height="0.26" fill="#f0f46e"/>
<rect x="557.43" y="553.28" width="3.68" height="1.96" fill="#4ee022"/>
<line x1="557.43" y1="553.28" x2="561.11" y2="553.28" stroke="#1c2030" stroke-opacity="0.45" stroke-width="0.35"/>
<rect x="557.43" y="551.34" width="3.68" height="1.93" fill="#ee8122"/>
<line x1="557.43" y1="551.34" x2="561.11" y2="551.34" stroke="#1c2030" stroke-opacity="0.45" stroke-width="0.35"/>
<rect x="557.43" y="549.2" width="3.68" height="2.15" fill="#ad5f1c"/>
<line x1="557.43" y1="549.2" x2="561.11" y2="549.2" stroke="#1c2030" stroke-opacity="0.45" stroke-width="0.35"/>
<rect x="557.43" y="546.01" width="3.68" height="3.19" fill="#a01512"/>
<line x1="557.43" y1="546.01" x2="561.11" y2="546.01" stroke="#1c2030" stroke-opacity="0.45" stroke-width="0.35"/>
<rect x="557.43" y="542.05" width="3.68" height="3.96" fill="#c4e4fb"/>
<line x1="557.43" y1="542.05" x2="561.11" y2="542.05" stroke="#1c2030" stroke-opacity="0.45" stroke-width="0.35"/>
<rect x="557.43" y="536.39" width="3.68" height="5.66" fill="#7ab7f4"/>
<line x1="557.43" y1="536.39" x2="561.11" y2="536.39" stroke="#1c2030" stroke-opacity="0.45" stroke-width="0.35"/>
<rect x="557.43" y="529.79" width="3.68" height="6.6" fill="#bb66ee"/>
<line x1="557.43" y1="529.79" x2="561.11" y2="529.79" stroke="#1c2030" stroke-opacity="0.45" stroke-width="0.35"/>
<rect x="557.43" y="420.67" width="3.68" height="135.83" fill="none" stroke="#4c505a" stroke-width="0.68"/>
<rect x="561.86" y="417.32" width="3.68" height="139.18" fill="#3a70dc"/>
<rect x="561.86" y="555.24" width="3.68" height="0.26" fill="#f0f46e"/>
<rect x="561.86" y="553.26" width="3.68" height="1.98" fill="#4ee022"/>
<line x1="561.86" y1="553.26" x2="565.54" y2="553.26" stroke="#1c2030" stroke-opacity="0.45" stroke-width="0.35"/>
<rect x="561.86" y="551.31" width="3.68" height="1.95" fill="#ee8122"/>
<line x1="561.86" y1="551.31" x2="565.54" y2="551.31" stroke="#1c2030" stroke-opacity="0.45" stroke-width="0.35"/>
<rect x="561.86" y="549.11" width="3.68" height="2.2" fill="#ad5f1c"/>
<line x1="561.86" y1="549.11" x2="565.54" y2="549.11" stroke="#1c2030" stroke-opacity="0.45" stroke-width="0.35"/>
<rect x="561.86" y="545.89" width="3.68" height="3.22" fill="#a01512"/>
<line x1="561.86" y1="545.89" x2="565.54" y2="545.89" stroke="#1c2030" stroke-opacity="0.45" stroke-width="0.35"/>
<rect x="561.86" y="541.89" width="3.68" height="4" fill="#c4e4fb"/>
<line x1="561.86" y1="541.89" x2="565.54" y2="541.89" stroke="#1c2030" stroke-opacity="0.45" stroke-width="0.35"/>
<rect x="561.86" y="536.13" width="3.68" height="5.76" fill="#7ab7f4"/>
<line x1="561.86" y1="536.13" x2="565.54" y2="536.13" stroke="#1c2030" stroke-opacity="0.45" stroke-width="0.35"/>
<rect x="561.86" y="529.34" width="3.68" height="6.79" fill="#bb66ee"/>
<line x1="561.86" y1="529.34" x2="565.54" y2="529.34" stroke="#1c2030" stroke-opacity="0.45" stroke-width="0.35"/>
<rect x="561.86" y="417.32" width="3.68" height="139.18" fill="none" stroke="#4c505a" stroke-width="0.68"/>
<rect x="566.29" y="414.08" width="3.68" height="142.42" fill="#3a70dc"/>
<rect x="566.29" y="555.24" width="3.68" height="0.26" fill="#f0f46e"/>
<rect x="566.29" y="553.24" width="3.68" height="1.99" fill="#4ee022"/>
<line x1="566.29" y1="553.24" x2="569.97" y2="553.24" stroke="#1c2030" stroke-opacity="0.45" stroke-width="0.35"/>
<rect x="566.29" y="551.29" width="3.68" height="1.95" fill="#ee8122"/>
<line x1="566.29" y1="551.29" x2="569.97" y2="551.29" stroke="#1c2030" stroke-opacity="0.45" stroke-width="0.35"/>
<rect x="566.29" y="549.05" width="3.68" height="2.25" fill="#ad5f1c"/>
<line x1="566.29" y1="549.05" x2="569.97" y2="549.05" stroke="#1c2030" stroke-opacity="0.45" stroke-width="0.35"/>
<rect x="566.29" y="545.81" width="3.68" height="3.23" fill="#a01512"/>
<line x1="566.29" y1="545.81" x2="569.97" y2="545.81" stroke="#1c2030" stroke-opacity="0.45" stroke-width="0.35"/>
<rect x="566.29" y="541.79" width="3.68" height="4.03" fill="#c4e4fb"/>
<line x1="566.29" y1="541.79" x2="569.97" y2="541.79" stroke="#1c2030" stroke-opacity="0.45" stroke-width="0.35"/>
<rect x="566.29" y="535.96" width="3.68" height="5.83" fill="#7ab7f4"/>
<line x1="566.29" y1="535.96" x2="569.97" y2="535.96" stroke="#1c2030" stroke-opacity="0.45" stroke-width="0.35"/>
<rect x="566.29" y="529" width="3.68" height="6.95" fill="#bb66ee"/>
<line x1="566.29" y1="529" x2="569.97" y2="529" stroke="#1c2030" stroke-opacity="0.45" stroke-width="0.35"/>
<rect x="566.29" y="414.08" width="3.68" height="142.42" fill="none" stroke="#4c505a" stroke-width="0.68"/>
<rect x="570.73" y="411.5" width="3.68" height="145" fill="#3a70dc"/>
<rect x="570.73" y="555.23" width="3.68" height="0.27" fill="#f0f46e"/>
<rect x="570.73" y="553.23" width="3.68" height="2" fill="#4ee022"/>
<line x1="570.73" y1="553.23" x2="574.41" y2="553.23" stroke="#1c2030" stroke-opacity="0.45" stroke-width="0.35"/>
<rect x="570.73" y="551.28" width="3.68" height="1.95" fill="#ee8122"/>
<line x1="570.73" y1="551.28" x2="574.41" y2="551.28" stroke="#1c2030" stroke-opacity="0.45" stroke-width="0.35"/>
<rect x="570.73" y="548.99" width="3.68" height="2.29" fill="#ad5f1c"/>
<line x1="570.73" y1="548.99" x2="574.41" y2="548.99" stroke="#1c2030" stroke-opacity="0.45" stroke-width="0.35"/>
<rect x="570.73" y="545.74" width="3.68" height="3.25" fill="#a01512"/>
<line x1="570.73" y1="545.74" x2="574.41" y2="545.74" stroke="#1c2030" stroke-opacity="0.45" stroke-width="0.35"/>
<rect x="570.73" y="541.69" width="3.68" height="4.05" fill="#c4e4fb"/>
<line x1="570.73" y1="541.69" x2="574.41" y2="541.69" stroke="#1c2030" stroke-opacity="0.45" stroke-width="0.35"/>
<rect x="570.73" y="535.78" width="3.68" height="5.9" fill="#7ab7f4"/>
<line x1="570.73" y1="535.78" x2="574.41" y2="535.78" stroke="#1c2030" stroke-opacity="0.45" stroke-width="0.35"/>
<rect x="570.73" y="528.67" width="3.68" height="7.12" fill="#bb66ee"/>
<line x1="570.73" y1="528.67" x2="574.41" y2="528.67" stroke="#1c2030" stroke-opacity="0.45" stroke-width="0.35"/>
<rect x="570.73" y="411.5" width="3.68" height="145" fill="none" stroke="#4c505a" stroke-width="0.68"/>
<rect x="575.16" y="408.49" width="3.68" height="148.01" fill="#3a70dc"/>
<rect x="575.16" y="555.22" width="3.68" height="0.28" fill="#f0f46e"/>
<rect x="575.16" y="553.13" width="3.68" height="2.08" fill="#4ee022"/>
<line x1="575.16" y1="553.13" x2="578.84" y2="553.13" stroke="#1c2030" stroke-opacity="0.45" stroke-width="0.35"/>
<rect x="575.16" y="551.1" width="3.68" height="2.03" fill="#ee8122"/>
<line x1="575.16" y1="551.1" x2="578.84" y2="551.1" stroke="#1c2030" stroke-opacity="0.45" stroke-width="0.35"/>
<rect x="575.16" y="548.68" width="3.68" height="2.42" fill="#ad5f1c"/>
<line x1="575.16" y1="548.68" x2="578.84" y2="548.68" stroke="#1c2030" stroke-opacity="0.45" stroke-width="0.35"/>
<rect x="575.16" y="545.3" width="3.68" height="3.38" fill="#a01512"/>
<line x1="575.16" y1="545.3" x2="578.84" y2="545.3" stroke="#1c2030" stroke-opacity="0.45" stroke-width="0.35"/>
<rect x="575.16" y="541.08" width="3.68" height="4.23" fill="#c4e4fb"/>
<line x1="575.16" y1="541.08" x2="578.84" y2="541.08" stroke="#1c2030" stroke-opacity="0.45" stroke-width="0.35"/>
<rect x="575.16" y="534.88" width="3.68" height="6.2" fill="#7ab7f4"/>
<line x1="575.16" y1="534.88" x2="578.84" y2="534.88" stroke="#1c2030" stroke-opacity="0.45" stroke-width="0.35"/>
<rect x="575.16" y="527.33" width="3.68" height="7.55" fill="#bb66ee"/>
<line x1="575.16" y1="527.33" x2="578.84" y2="527.33" stroke="#1c2030" stroke-opacity="0.45" stroke-width="0.35"/>
<rect x="575.16" y="408.49" width="3.68" height="148.01" fill="none" stroke="#4c505a" stroke-width="0.68"/>
<rect x="579.59" y="403.9" width="3.68" height="152.6" fill="#3a70dc"/>
<rect x="579.59" y="555.22" width="3.68" height="0.28" fill="#f0f46e"/>
<rect x="579.59" y="553.13" width="3.68" height="2.08" fill="#4ee022"/>
<line x1="579.59" y1="553.13" x2="583.27" y2="553.13" stroke="#1c2030" stroke-opacity="0.45" stroke-width="0.35"/>
<rect x="579.59" y="551.11" width="3.68" height="2.02" fill="#ee8122"/>
<line x1="579.59" y1="551.11" x2="583.27" y2="551.11" stroke="#1c2030" stroke-opacity="0.45" stroke-width="0.35"/>
<rect x="579.59" y="548.65" width="3.68" height="2.46" fill="#ad5f1c"/>
<line x1="579.59" y1="548.65" x2="583.27" y2="548.65" stroke="#1c2030" stroke-opacity="0.45" stroke-width="0.35"/>
<rect x="579.59" y="545.27" width="3.68" height="3.38" fill="#a01512"/>
<line x1="579.59" y1="545.27" x2="583.27" y2="545.27" stroke="#1c2030" stroke-opacity="0.45" stroke-width="0.35"/>
<rect x="579.59" y="541.04" width="3.68" height="4.23" fill="#c4e4fb"/>
<line x1="579.59" y1="541.04" x2="583.27" y2="541.04" stroke="#1c2030" stroke-opacity="0.45" stroke-width="0.35"/>
<rect x="579.59" y="534.79" width="3.68" height="6.25" fill="#7ab7f4"/>
<line x1="579.59" y1="534.79" x2="583.27" y2="534.79" stroke="#1c2030" stroke-opacity="0.45" stroke-width="0.35"/>
<rect x="579.59" y="527.1" width="3.68" height="7.69" fill="#bb66ee"/>
<line x1="579.59" y1="527.1" x2="583.27" y2="527.1" stroke="#1c2030" stroke-opacity="0.45" stroke-width="0.35"/>
<rect x="579.59" y="403.9" width="3.68" height="152.6" fill="none" stroke="#4c505a" stroke-width="0.68"/>
<rect x="584.03" y="401.67" width="3.68" height="154.83" fill="#3a70dc"/>
<rect x="584.03" y="555.21" width="3.68" height="0.29" fill="#f0f46e"/>
<rect x="584.03" y="553.13" width="3.68" height="2.08" fill="#4ee022"/>
<line x1="584.03" y1="553.13" x2="587.71" y2="553.13" stroke="#1c2030" stroke-opacity="0.45" stroke-width="0.35"/>
<rect x="584.03" y="551.12" width="3.68" height="2.01" fill="#ee8122"/>
<line x1="584.03" y1="551.12" x2="587.71" y2="551.12" stroke="#1c2030" stroke-opacity="0.45" stroke-width="0.35"/>
<rect x="584.03" y="548.62" width="3.68" height="2.5" fill="#ad5f1c"/>
<line x1="584.03" y1="548.62" x2="587.71" y2="548.62" stroke="#1c2030" stroke-opacity="0.45" stroke-width="0.35"/>
<rect x="584.03" y="545.24" width="3.68" height="3.38" fill="#a01512"/>
<line x1="584.03" y1="545.24" x2="587.71" y2="545.24" stroke="#1c2030" stroke-opacity="0.45" stroke-width="0.35"/>
<rect x="584.03" y="541.01" width="3.68" height="4.24" fill="#c4e4fb"/>
<line x1="584.03" y1="541.01" x2="587.71" y2="541.01" stroke="#1c2030" stroke-opacity="0.45" stroke-width="0.35"/>
<rect x="584.03" y="534.71" width="3.68" height="6.3" fill="#7ab7f4"/>
<line x1="584.03" y1="534.71" x2="587.71" y2="534.71" stroke="#1c2030" stroke-opacity="0.45" stroke-width="0.35"/>
<rect x="584.03" y="526.88" width="3.68" height="7.83" fill="#bb66ee"/>
<line x1="584.03" y1="526.88" x2="587.71" y2="526.88" stroke="#1c2030" stroke-opacity="0.45" stroke-width="0.35"/>
<rect x="584.03" y="401.67" width="3.68" height="154.83" fill="none" stroke="#4c505a" stroke-width="0.68"/>
<rect x="588.46" y="398.98" width="3.68" height="157.52" fill="#3a70dc"/>
<rect x="588.46" y="555.21" width="3.68" height="0.29" fill="#f0f46e"/>
<rect x="588.46" y="553.13" width="3.68" height="2.08" fill="#4ee022"/>
<line x1="588.46" y1="553.13" x2="592.14" y2="553.13" stroke="#1c2030" stroke-opacity="0.45" stroke-width="0.35"/>
<rect x="588.46" y="551.12" width="3.68" height="2.01" fill="#ee8122"/>
<line x1="588.46" y1="551.12" x2="592.14" y2="551.12" stroke="#1c2030" stroke-opacity="0.45" stroke-width="0.35"/>
<rect x="588.46" y="548.59" width="3.68" height="2.53" fill="#ad5f1c"/>
<line x1="588.46" y1="548.59" x2="592.14" y2="548.59" stroke="#1c2030" stroke-opacity="0.45" stroke-width="0.35"/>
<rect x="588.46" y="545.21" width="3.68" height="3.37" fill="#a01512"/>
<line x1="588.46" y1="545.21" x2="592.14" y2="545.21" stroke="#1c2030" stroke-opacity="0.45" stroke-width="0.35"/>
<rect x="588.46" y="540.97" width="3.68" height="4.24" fill="#c4e4fb"/>
<line x1="588.46" y1="540.97" x2="592.14" y2="540.97" stroke="#1c2030" stroke-opacity="0.45" stroke-width="0.35"/>
<rect x="588.46" y="534.63" width="3.68" height="6.35" fill="#7ab7f4"/>
<line x1="588.46" y1="534.63" x2="592.14" y2="534.63" stroke="#1c2030" stroke-opacity="0.45" stroke-width="0.35"/>
<rect x="588.46" y="526.66" width="3.68" height="7.97" fill="#bb66ee"/>
<line x1="588.46" y1="526.66" x2="592.14" y2="526.66" stroke="#1c2030" stroke-opacity="0.45" stroke-width="0.35"/>
<rect x="588.46" y="398.98" width="3.68" height="157.52" fill="none" stroke="#4c505a" stroke-width="0.68"/>
<rect x="592.89" y="396.3" width="3.68" height="160.2" fill="#3a70dc"/>
<rect x="592.89" y="555.2" width="3.68" height="0.3" fill="#f0f46e"/>
<rect x="592.89" y="553.06" width="3.68" height="2.14" fill="#4ee022"/>
<line x1="592.89" y1="553.06" x2="596.57" y2="553.06" stroke="#1c2030" stroke-opacity="0.45" stroke-width="0.35"/>
<rect x="592.89" y="551.01" width="3.68" height="2.05" fill="#ee8122"/>
<line x1="592.89" y1="551.01" x2="596.57" y2="551.01" stroke="#1c2030" stroke-opacity="0.45" stroke-width="0.35"/>
<rect x="592.89" y="548.37" width="3.68" height="2.64" fill="#ad5f1c"/>
<line x1="592.89" y1="548.37" x2="596.57" y2="548.37" stroke="#1c2030" stroke-opacity="0.45" stroke-width="0.35"/>
<rect x="592.89" y="544.91" width="3.68" height="3.46" fill="#a01512"/>
<line x1="592.89" y1="544.91" x2="596.57" y2="544.91" stroke="#1c2030" stroke-opacity="0.45" stroke-width="0.35"/>
<rect x="592.89" y="540.55" width="3.68" height="4.36" fill="#c4e4fb"/>
<line x1="592.89" y1="540.55" x2="596.57" y2="540.55" stroke="#1c2030" stroke-opacity="0.45" stroke-width="0.35"/>
<rect x="592.89" y="533.98" width="3.68" height="6.57" fill="#7ab7f4"/>
<line x1="592.89" y1="533.98" x2="596.57" y2="533.98" stroke="#1c2030" stroke-opacity="0.45" stroke-width="0.35"/>
<rect x="592.89" y="525.65" width="3.68" height="8.33" fill="#bb66ee"/>
<line x1="592.89" y1="525.65" x2="596.57" y2="525.65" stroke="#1c2030" stroke-opacity="0.45" stroke-width="0.35"/>
<rect x="592.89" y="396.3" width="3.68" height="160.2" fill="none" stroke="#4c505a" stroke-width="0.68"/>
<rect x="597.33" y="393.73" width="3.68" height="162.77" fill="#3a70dc"/>
<rect x="597.33" y="555.2" width="3.68" height="0.3" fill="#f0f46e"/>
<rect x="597.33" y="553.06" width="3.68" height="2.14" fill="#4ee022"/>
<line x1="597.33" y1="553.06" x2="601.01" y2="553.06" stroke="#1c2030" stroke-opacity="0.45" stroke-width="0.35"/>
<rect x="597.33" y="551.02" width="3.68" height="2.05" fill="#ee8122"/>
<line x1="597.33" y1="551.02" x2="601.01" y2="551.02" stroke="#1c2030" stroke-opacity="0.45" stroke-width="0.35"/>
<rect x="597.33" y="548.34" width="3.68" height="2.68" fill="#ad5f1c"/>
<line x1="597.33" y1="548.34" x2="601.01" y2="548.34" stroke="#1c2030" stroke-opacity="0.45" stroke-width="0.35"/>
<rect x="597.33" y="544.88" width="3.68" height="3.46" fill="#a01512"/>
<line x1="597.33" y1="544.88" x2="601.01" y2="544.88" stroke="#1c2030" stroke-opacity="0.45" stroke-width="0.35"/>
<rect x="597.33" y="540.52" width="3.68" height="4.36" fill="#c4e4fb"/>
<line x1="597.33" y1="540.52" x2="601.01" y2="540.52" stroke="#1c2030" stroke-opacity="0.45" stroke-width="0.35"/>
<rect x="597.33" y="533.91" width="3.68" height="6.62" fill="#7ab7f4"/>
<line x1="597.33" y1="533.91" x2="601.01" y2="533.91" stroke="#1c2030" stroke-opacity="0.45" stroke-width="0.35"/>
<rect x="597.33" y="525.43" width="3.68" height="8.48" fill="#bb66ee"/>
<line x1="597.33" y1="525.43" x2="601.01" y2="525.43" stroke="#1c2030" stroke-opacity="0.45" stroke-width="0.35"/>
<rect x="597.33" y="393.73" width="3.68" height="162.77" fill="none" stroke="#4c505a" stroke-width="0.68"/>
<rect x="601.76" y="390.26" width="3.68" height="166.24" fill="#3a70dc"/>
<rect x="601.76" y="555.2" width="3.68" height="0.3" fill="#f0f46e"/>
<rect x="601.76" y="553.06" width="3.68" height="2.13" fill="#4ee022"/>
<line x1="601.76" y1="553.06" x2="605.44" y2="553.06" stroke="#1c2030" stroke-opacity="0.45" stroke-width="0.35"/>
<rect x="601.76" y="551.03" width="3.68" height="2.04" fill="#ee8122"/>
<line x1="601.76" y1="551.03" x2="605.44" y2="551.03" stroke="#1c2030" stroke-opacity="0.45" stroke-width="0.35"/>
<rect x="601.76" y="548.31" width="3.68" height="2.71" fill="#ad5f1c"/>
<line x1="601.76" y1="548.31" x2="605.44" y2="548.31" stroke="#1c2030" stroke-opacity="0.45" stroke-width="0.35"/>
<rect x="601.76" y="544.86" width="3.68" height="3.45" fill="#a01512"/>
<line x1="601.76" y1="544.86" x2="605.44" y2="544.86" stroke="#1c2030" stroke-opacity="0.45" stroke-width="0.35"/>
<rect x="601.76" y="540.5" width="3.68" height="4.36" fill="#c4e4fb"/>
<line x1="601.76" y1="540.5" x2="605.44" y2="540.5" stroke="#1c2030" stroke-opacity="0.45" stroke-width="0.35"/>
<rect x="601.76" y="533.83" width="3.68" height="6.67" fill="#7ab7f4"/>
<line x1="601.76" y1="533.83" x2="605.44" y2="533.83" stroke="#1c2030" stroke-opacity="0.45" stroke-width="0.35"/>
<rect x="601.76" y="525.2" width="3.68" height="8.63" fill="#bb66ee"/>
<line x1="601.76" y1="525.2" x2="605.44" y2="525.2" stroke="#1c2030" stroke-opacity="0.45" stroke-width="0.35"/>
<rect x="601.76" y="390.26" width="3.68" height="166.24" fill="none" stroke="#4c505a" stroke-width="0.68"/>
<rect x="606.19" y="387.36" width="3.68" height="169.14" fill="#3a70dc"/>
<rect x="606.19" y="555.18" width="3.68" height="0.32" fill="#f0f46e"/>
<rect x="606.19" y="552.94" width="3.68" height="2.24" fill="#4ee022"/>
<line x1="606.19" y1="552.94" x2="609.87" y2="552.94" stroke="#1c2030" stroke-opacity="0.45" stroke-width="0.35"/>
<rect x="606.19" y="550.81" width="3.68" height="2.13" fill="#ee8122"/>
<line x1="606.19" y1="550.81" x2="609.87" y2="550.81" stroke="#1c2030" stroke-opacity="0.45" stroke-width="0.35"/>
<rect x="606.19" y="547.91" width="3.68" height="2.89" fill="#ad5f1c"/>
<line x1="606.19" y1="547.91" x2="609.87" y2="547.91" stroke="#1c2030" stroke-opacity="0.45" stroke-width="0.35"/>
<rect x="606.19" y="544.29" width="3.68" height="3.63" fill="#a01512"/>
<line x1="606.19" y1="544.29" x2="609.87" y2="544.29" stroke="#1c2030" stroke-opacity="0.45" stroke-width="0.35"/>
<rect x="606.19" y="539.7" width="3.68" height="4.59" fill="#c4e4fb"/>
<line x1="606.19" y1="539.7" x2="609.87" y2="539.7" stroke="#1c2030" stroke-opacity="0.45" stroke-width="0.35"/>
<rect x="606.19" y="532.64" width="3.68" height="7.06" fill="#7ab7f4"/>
<line x1="606.19" y1="532.64" x2="609.87" y2="532.64" stroke="#1c2030" stroke-opacity="0.45" stroke-width="0.35"/>
<rect x="606.19" y="523.41" width="3.68" height="9.23" fill="#bb66ee"/>
<line x1="606.19" y1="523.41" x2="609.87" y2="523.41" stroke="#1c2030" stroke-opacity="0.45" stroke-width="0.35"/>
<rect x="606.19" y="387.36" width="3.68" height="169.14" fill="none" stroke="#4c505a" stroke-width="0.68"/>
<rect x="610.63" y="384.9" width="3.68" height="171.6" fill="#3a70dc"/>
<rect x="610.63" y="555.18" width="3.68" height="0.32" fill="#f0f46e"/>
<rect x="610.63" y="552.95" width="3.68" height="2.23" fill="#4ee022"/>
<line x1="610.63" y1="552.95" x2="614.31" y2="552.95" stroke="#1c2030" stroke-opacity="0.45" stroke-width="0.35"/>
<rect x="610.63" y="550.84" width="3.68" height="2.11" fill="#ee8122"/>
<line x1="610.63" y1="550.84" x2="614.31" y2="550.84" stroke="#1c2030" stroke-opacity="0.45" stroke-width="0.35"/>
<rect x="610.63" y="547.91" width="3.68" height="2.92" fill="#ad5f1c"/>
<line x1="610.63" y1="547.91" x2="614.31" y2="547.91" stroke="#1c2030" stroke-opacity="0.45" stroke-width="0.35"/>
<rect x="610.63" y="544.31" width="3.68" height="3.61" fill="#a01512"/>
<line x1="610.63" y1="544.31" x2="614.31" y2="544.31" stroke="#1c2030" stroke-opacity="0.45" stroke-width="0.35"/>
<rect x="610.63" y="539.74" width="3.68" height="4.57" fill="#c4e4fb"/>
<line x1="610.63" y1="539.74" x2="614.31" y2="539.74" stroke="#1c2030" stroke-opacity="0.45" stroke-width="0.35"/>
<rect x="610.63" y="532.65" width="3.68" height="7.08" fill="#7ab7f4"/>
<line x1="610.63" y1="532.65" x2="614.31" y2="532.65" stroke="#1c2030" stroke-opacity="0.45" stroke-width="0.35"/>
<rect x="610.63" y="523.3" width="3.68" height="9.35" fill="#bb66ee"/>
<line x1="610.63" y1="523.3" x2="614.31" y2="523.3" stroke="#1c2030" stroke-opacity="0.45" stroke-width="0.35"/>
<rect x="610.63" y="384.9" width="3.68" height="171.6" fill="none" stroke="#4c505a" stroke-width="0.68"/>
<rect x="615.06" y="382.55" width="3.68" height="173.95" fill="#3a70dc"/>
<rect x="615.06" y="555.18" width="3.68" height="0.32" fill="#f0f46e"/>
<rect x="615.06" y="552.96" width="3.68" height="2.22" fill="#4ee022"/>
<line x1="615.06" y1="552.96" x2="618.74" y2="552.96" stroke="#1c2030" stroke-opacity="0.45" stroke-width="0.35"/>
<rect x="615.06" y="550.87" width="3.68" height="2.09" fill="#ee8122"/>
<line x1="615.06" y1="550.87" x2="618.74" y2="550.87" stroke="#1c2030" stroke-opacity="0.45" stroke-width="0.35"/>
<rect x="615.06" y="547.91" width="3.68" height="2.95" fill="#ad5f1c"/>
<line x1="615.06" y1="547.91" x2="618.74" y2="547.91" stroke="#1c2030" stroke-opacity="0.45" stroke-width="0.35"/>
<rect x="615.06" y="544.33" width="3.68" height="3.59" fill="#a01512"/>
<line x1="615.06" y1="544.33" x2="618.74" y2="544.33" stroke="#1c2030" stroke-opacity="0.45" stroke-width="0.35"/>
<rect x="615.06" y="539.77" width="3.68" height="4.56" fill="#c4e4fb"/>
<line x1="615.06" y1="539.77" x2="618.74" y2="539.77" stroke="#1c2030" stroke-opacity="0.45" stroke-width="0.35"/>
<rect x="615.06" y="532.66" width="3.68" height="7.11" fill="#7ab7f4"/>
<line x1="615.06" y1="532.66" x2="618.74" y2="532.66" stroke="#1c2030" stroke-opacity="0.45" stroke-width="0.35"/>
<rect x="615.06" y="523.19" width="3.68" height="9.47" fill="#bb66ee"/>
<line x1="615.06" y1="523.19" x2="618.74" y2="523.19" stroke="#1c2030" stroke-opacity="0.45" stroke-width="0.35"/>
<rect x="615.06" y="382.55" width="3.68" height="173.95" fill="none" stroke="#4c505a" stroke-width="0.68"/>
<rect x="619.49" y="380.54" width="3.68" height="175.96" fill="#3a70dc"/>
<rect x="619.49" y="555.18" width="3.68" height="0.32" fill="#f0f46e"/>
<rect x="619.49" y="552.97" width="3.68" height="2.2" fill="#4ee022"/>
<line x1="619.49" y1="552.97" x2="623.17" y2="552.97" stroke="#1c2030" stroke-opacity="0.45" stroke-width="0.35"/>
<rect x="619.49" y="550.9" width="3.68" height="2.07" fill="#ee8122"/>
<line x1="619.49" y1="550.9" x2="623.17" y2="550.9" stroke="#1c2030" stroke-opacity="0.45" stroke-width="0.35"/>
<rect x="619.49" y="547.91" width="3.68" height="2.98" fill="#ad5f1c"/>
<line x1="619.49" y1="547.91" x2="623.17" y2="547.91" stroke="#1c2030" stroke-opacity="0.45" stroke-width="0.35"/>
<rect x="619.49" y="544.35" width="3.68" height="3.57" fill="#a01512"/>
<line x1="619.49" y1="544.35" x2="623.17" y2="544.35" stroke="#1c2030" stroke-opacity="0.45" stroke-width="0.35"/>
<rect x="619.49" y="539.81" width="3.68" height="4.54" fill="#c4e4fb"/>
<line x1="619.49" y1="539.81" x2="623.17" y2="539.81" stroke="#1c2030" stroke-opacity="0.45" stroke-width="0.35"/>
<rect x="619.49" y="532.68" width="3.68" height="7.13" fill="#7ab7f4"/>
<line x1="619.49" y1="532.68" x2="623.17" y2="532.68" stroke="#1c2030" stroke-opacity="0.45" stroke-width="0.35"/>
<rect x="619.49" y="523.08" width="3.68" height="9.6" fill="#bb66ee"/>
<line x1="619.49" y1="523.08" x2="623.17" y2="523.08" stroke="#1c2030" stroke-opacity="0.45" stroke-width="0.35"/>
<rect x="619.49" y="380.54" width="3.68" height="175.96" fill="none" stroke="#4c505a" stroke-width="0.68"/>
<rect x="623.93" y="378.52" width="3.68" height="177.98" fill="#3a70dc"/>
<rect x="623.93" y="555.17" width="3.68" height="0.33" fill="#f0f46e"/>
<rect x="623.93" y="552.98" width="3.68" height="2.19" fill="#4ee022"/>
<line x1="623.93" y1="552.98" x2="627.61" y2="552.98" stroke="#1c2030" stroke-opacity="0.45" stroke-width="0.35"/>
<rect x="623.93" y="550.93" width="3.68" height="2.06" fill="#ee8122"/>
<line x1="623.93" y1="550.93" x2="627.61" y2="550.93" stroke="#1c2030" stroke-opacity="0.45" stroke-width="0.35"/>
<rect x="623.93" y="547.91" width="3.68" height="3.01" fill="#ad5f1c"/>
<line x1="623.93" y1="547.91" x2="627.61" y2="547.91" stroke="#1c2030" stroke-opacity="0.45" stroke-width="0.35"/>
<rect x="623.93" y="544.37" width="3.68" height="3.55" fill="#a01512"/>
<line x1="623.93" y1="544.37" x2="627.61" y2="544.37" stroke="#1c2030" stroke-opacity="0.45" stroke-width="0.35"/>
<rect x="623.93" y="539.84" width="3.68" height="4.52" fill="#c4e4fb"/>
<line x1="623.93" y1="539.84" x2="627.61" y2="539.84" stroke="#1c2030" stroke-opacity="0.45" stroke-width="0.35"/>
<rect x="623.93" y="532.69" width="3.68" height="7.16" fill="#7ab7f4"/>
<line x1="623.93" y1="532.69" x2="627.61" y2="532.69" stroke="#1c2030" stroke-opacity="0.45" stroke-width="0.35"/>
<rect x="623.93" y="522.97" width="3.68" height="9.72" fill="#bb66ee"/>
<line x1="623.93" y1="522.97" x2="627.61" y2="522.97" stroke="#1c2030" stroke-opacity="0.45" stroke-width="0.35"/>
<rect x="623.93" y="378.52" width="3.68" height="177.98" fill="none" stroke="#4c505a" stroke-width="0.68"/>
<rect x="628.36" y="374.39" width="3.68" height="182.11" fill="#3a70dc"/>
<rect x="628.36" y="555.16" width="3.68" height="0.34" fill="#f0f46e"/>
<rect x="628.36" y="552.87" width="3.68" height="2.29" fill="#4ee022"/>
<line x1="628.36" y1="552.87" x2="632.04" y2="552.87" stroke="#1c2030" stroke-opacity="0.45" stroke-width="0.35"/>
<rect x="628.36" y="550.74" width="3.68" height="2.13" fill="#ee8122"/>
<line x1="628.36" y1="550.74" x2="632.04" y2="550.74" stroke="#1c2030" stroke-opacity="0.45" stroke-width="0.35"/>
<rect x="628.36" y="547.55" width="3.68" height="3.19" fill="#ad5f1c"/>
<line x1="628.36" y1="547.55" x2="632.04" y2="547.55" stroke="#1c2030" stroke-opacity="0.45" stroke-width="0.35"/>
<rect x="628.36" y="543.85" width="3.68" height="3.69" fill="#a01512"/>
<line x1="628.36" y1="543.85" x2="632.04" y2="543.85" stroke="#1c2030" stroke-opacity="0.45" stroke-width="0.35"/>
<rect x="628.36" y="539.13" width="3.68" height="4.72" fill="#c4e4fb"/>
<line x1="628.36" y1="539.13" x2="632.04" y2="539.13" stroke="#1c2030" stroke-opacity="0.45" stroke-width="0.35"/>
<rect x="628.36" y="531.61" width="3.68" height="7.53" fill="#7ab7f4"/>
<line x1="628.36" y1="531.61" x2="632.04" y2="531.61" stroke="#1c2030" stroke-opacity="0.45" stroke-width="0.35"/>
<rect x="628.36" y="521.29" width="3.68" height="10.32" fill="#bb66ee"/>
<line x1="628.36" y1="521.29" x2="632.04" y2="521.29" stroke="#1c2030" stroke-opacity="0.45" stroke-width="0.35"/>
<rect x="628.36" y="374.39" width="3.68" height="182.11" fill="none" stroke="#4c505a" stroke-width="0.68"/>
<rect x="632.79" y="370.36" width="3.68" height="186.14" fill="#3a70dc"/>
<rect x="632.79" y="555.15" width="3.68" height="0.35" fill="#f0f46e"/>
<rect x="632.79" y="552.87" width="3.68" height="2.29" fill="#4ee022"/>
<line x1="632.79" y1="552.87" x2="636.47" y2="552.87" stroke="#1c2030" stroke-opacity="0.45" stroke-width="0.35"/>
<rect x="632.79" y="550.74" width="3.68" height="2.13" fill="#ee8122"/>
<line x1="632.79" y1="550.74" x2="636.47" y2="550.74" stroke="#1c2030" stroke-opacity="0.45" stroke-width="0.35"/>
<rect x="632.79" y="547.5" width="3.68" height="3.24" fill="#ad5f1c"/>
<line x1="632.79" y1="547.5" x2="636.47" y2="547.5" stroke="#1c2030" stroke-opacity="0.45" stroke-width="0.35"/>
<rect x="632.79" y="543.8" width="3.68" height="3.7" fill="#a01512"/>
<line x1="632.79" y1="543.8" x2="636.47" y2="543.8" stroke="#1c2030" stroke-opacity="0.45" stroke-width="0.35"/>
<rect x="632.79" y="539.07" width="3.68" height="4.73" fill="#c4e4fb"/>
<line x1="632.79" y1="539.07" x2="636.47" y2="539.07" stroke="#1c2030" stroke-opacity="0.45" stroke-width="0.35"/>
<rect x="632.79" y="531.47" width="3.68" height="7.6" fill="#7ab7f4"/>
<line x1="632.79" y1="531.47" x2="636.47" y2="531.47" stroke="#1c2030" stroke-opacity="0.45" stroke-width="0.35"/>
<rect x="632.79" y="520.95" width="3.68" height="10.52" fill="#bb66ee"/>
<line x1="632.79" y1="520.95" x2="636.47" y2="520.95" stroke="#1c2030" stroke-opacity="0.45" stroke-width="0.35"/>
<rect x="632.79" y="370.36" width="3.68" height="186.14" fill="none" stroke="#4c505a" stroke-width="0.68"/>
<rect x="637.23" y="367.34" width="3.68" height="189.16" fill="#3a70dc"/>
<rect x="637.23" y="555.14" width="3.68" height="0.36" fill="#f0f46e"/>
<rect x="637.23" y="552.78" width="3.68" height="2.36" fill="#4ee022"/>
<line x1="637.23" y1="552.78" x2="640.91" y2="552.78" stroke="#1c2030" stroke-opacity="0.45" stroke-width="0.35"/>
<rect x="637.23" y="550.59" width="3.68" height="2.19" fill="#ee8122"/>
<line x1="637.23" y1="550.59" x2="640.91" y2="550.59" stroke="#1c2030" stroke-opacity="0.45" stroke-width="0.35"/>
<rect x="637.23" y="547.19" width="3.68" height="3.4" fill="#ad5f1c"/>
<line x1="637.23" y1="547.19" x2="640.91" y2="547.19" stroke="#1c2030" stroke-opacity="0.45" stroke-width="0.35"/>
<rect x="637.23" y="543.38" width="3.68" height="3.82" fill="#a01512"/>
<line x1="637.23" y1="543.38" x2="640.91" y2="543.38" stroke="#1c2030" stroke-opacity="0.45" stroke-width="0.35"/>
<rect x="637.23" y="538.48" width="3.68" height="4.9" fill="#c4e4fb"/>
<line x1="637.23" y1="538.48" x2="640.91" y2="538.48" stroke="#1c2030" stroke-opacity="0.45" stroke-width="0.35"/>
<rect x="637.23" y="530.56" width="3.68" height="7.92" fill="#7ab7f4"/>
<line x1="637.23" y1="530.56" x2="640.91" y2="530.56" stroke="#1c2030" stroke-opacity="0.45" stroke-width="0.35"/>
<rect x="637.23" y="519.5" width="3.68" height="11.06" fill="#bb66ee"/>
<line x1="637.23" y1="519.5" x2="640.91" y2="519.5" stroke="#1c2030" stroke-opacity="0.45" stroke-width="0.35"/>
<rect x="637.23" y="367.34" width="3.68" height="189.16" fill="none" stroke="#4c505a" stroke-width="0.68"/>
<rect x="641.66" y="363.54" width="3.68" height="192.96" fill="#3a70dc"/>
<rect x="641.66" y="555.12" width="3.68" height="0.38" fill="#f0f46e"/>
<rect x="641.66" y="552.68" width="3.68" height="2.44" fill="#4ee022"/>
<line x1="641.66" y1="552.68" x2="645.34" y2="552.68" stroke="#1c2030" stroke-opacity="0.45" stroke-width="0.35"/>
<rect x="641.66" y="550.43" width="3.68" height="2.25" fill="#ee8122"/>
<line x1="641.66" y1="550.43" x2="645.34" y2="550.43" stroke="#1c2030" stroke-opacity="0.45" stroke-width="0.35"/>
<rect x="641.66" y="546.86" width="3.68" height="3.57" fill="#ad5f1c"/>
<line x1="641.66" y1="546.86" x2="645.34" y2="546.86" stroke="#1c2030" stroke-opacity="0.45" stroke-width="0.35"/>
<rect x="641.66" y="542.92" width="3.68" height="3.94" fill="#a01512"/>
<line x1="641.66" y1="542.92" x2="645.34" y2="542.92" stroke="#1c2030" stroke-opacity="0.45" stroke-width="0.35"/>
<rect x="641.66" y="537.84" width="3.68" height="5.07" fill="#c4e4fb"/>
<line x1="641.66" y1="537.84" x2="645.34" y2="537.84" stroke="#1c2030" stroke-opacity="0.45" stroke-width="0.35"/>
<rect x="641.66" y="529.58" width="3.68" height="8.26" fill="#7ab7f4"/>
<line x1="641.66" y1="529.58" x2="645.34" y2="529.58" stroke="#1c2030" stroke-opacity="0.45" stroke-width="0.35"/>
<rect x="641.66" y="517.94" width="3.68" height="11.64" fill="#bb66ee"/>
<line x1="641.66" y1="517.94" x2="645.34" y2="517.94" stroke="#1c2030" stroke-opacity="0.45" stroke-width="0.35"/>
<rect x="641.66" y="363.54" width="3.68" height="192.96" fill="none" stroke="#4c505a" stroke-width="0.68"/>
<line x1="470.6" y1="320.5" x2="470.6" y2="555.5" stroke="#6e6e6e" stroke-width="0.9" stroke-dasharray="3.6 2.6"/>
<path d="M377.5 522.47 L378.61 522.45 L379.72 522.42 L380.82 522.39 L381.93 522.35 L383.04 522.3 L384.15 522.25 L385.26 522.19 L386.37 522.14 L387.48 522.05 L388.58 521.94 L389.69 521.84 L390.8 521.8 L391.91 521.8 L393.02 521.8 L394.12 521.8 L395.23 521.8 L396.34 521.8 L397.45 521.8 L398.56 521.8 L399.67 521.8 L400.77 521.8 L401.88 521.8 L402.99 521.8 L404.1 521.8 L405.21 521.8 L406.32 521.8 L407.43 521.8 L408.53 521.8 L409.64 521.58 L410.75 521.05 L411.86 520.38 L412.97 519.79 L414.07 519.3 L415.18 518.82 L416.29 518.32 L417.4 517.77 L418.51 517.14 L419.62 516.43 L420.73 515.73 L421.83 515.09 L422.94 514.58 L424.05 514.15 L425.16 513.68 L426.27 513.08 L427.38 512.08 L428.48 510.73 L429.59 509.38 L430.7 508.38 L431.81 507.81 L432.92 507.39 L434.02 506.96 L435.13 506.37 L436.24 505.28 L437.35 503.76 L438.46 502.2 L439.57 501 L440.68 500.23 L441.78 499.63 L442.89 499.03 L444 498.31 L445.11 497.35 L446.22 496.22 L447.32 495.04 L448.43 493.95 L449.54 492.97 L450.65 492.03 L451.76 491.12 L452.87 490.26 L453.98 489.49 L455.08 488.8 L456.19 488.06 L457.3 487.18 L458.41 486.03 L459.52 484.65 L460.62 483.12 L461.73 481.54 L462.84 479.83 L463.95 477.96 L465.06 476.1 L466.17 474.43 L467.27 472.9 L468.38 471.43 L469.49 470.12 L470.6 469.06 L471.71 468.27 L472.82 467.64 L473.93 467.03 L475.03 466.31 L476.14 465.41 L477.25 464.39 L478.36 463.29 L479.47 462.12 L480.57 460.92 L481.68 459.71 L482.79 458.52 L483.9 457.38 L485.01 456.29 L486.12 455.2 L487.23 454.12 L488.33 453.02 L489.44 451.92 L490.55 450.8 L491.66 449.68 L492.77 448.56 L493.88 447.44 L494.98 446.32 L496.09 445.2 L497.2 444.1 L498.31 443 L499.42 441.91 L500.52 440.82 L501.63 439.74 L502.74 438.66 L503.85 437.58 L504.96 436.51 L506.07 435.44 L507.17 434.38 L508.28 433.32 L509.39 432.26 L510.5 431.21 L511.61 430.17 L512.72 429.12 L513.83 428.07 L514.93 427.02 L516.04 425.97 L517.15 424.92 L518.26 423.87 L519.37 422.83 L520.48 421.78 L521.58 420.75 L522.69 419.71 L523.8 418.69 L524.91 417.67 L526.02 416.65 L527.12 415.65 L528.23 414.65 L529.34 413.66 L530.45 412.68 L531.56 411.71 L532.67 410.75 L533.77 409.8 L534.88 408.86 L535.99 407.93 L537.1 407.01 L538.21 406.11 L539.32 405.22 L540.42 404.35 L541.53 403.5 L542.64 402.67 L543.75 401.84 L544.86 401.02 L545.97 400.21 L547.08 399.41 L548.18 398.62 L549.29 397.84 L550.4 397.08 L551.51 396.33 L552.62 395.6 L553.73 394.88 L554.83 394.18 L555.94 393.49 L557.05 392.82 L558.16 392.17 L559.27 391.53 L560.38 390.9 L561.48 390.28 L562.59 389.67 L563.7 389.06 L564.81 388.46 L565.92 387.87 L567.02 387.28 L568.13 386.7 L569.24 386.13 L570.35 385.57 L571.46 385.01 L572.57 384.46 L573.67 383.91 L574.78 383.35 L575.89 382.8 L577 382.23 L578.11 381.67 L579.22 381.1 L580.33 380.54 L581.43 379.97 L582.54 379.41 L583.65 378.84 L584.76 378.28 L585.87 377.71 L586.98 377.15 L588.08 376.58 L589.19 376.01 L590.3 375.44 L591.41 374.87 L592.52 374.3 L593.62 373.73 L594.73 373.15 L595.84 372.57 L596.95 371.99 L598.06 371.41 L599.17 370.82 L600.27 370.24 L601.38 369.65 L602.49 369.07 L603.6 368.48 L604.71 367.9 L605.82 367.31 L606.92 366.72 L608.03 366.13 L609.14 365.54 L610.25 364.95 L611.36 364.35 L612.47 363.75 L613.58 363.14 L614.68 362.53 L615.79 361.91 L616.9 361.29 L618.01 360.67 L619.12 360.03 L620.23 359.39 L621.33 358.75 L622.44 358.09 L623.55 357.43 L624.66 356.77 L625.77 356.1 L626.88 355.42 L627.98 354.74 L629.09 354.06 L630.2 353.36 L631.31 352.67 L632.42 351.96 L633.53 351.25 L634.63 350.54 L635.74 349.82 L636.85 349.1 L637.96 348.37 L639.07 347.64 L640.17 346.9 L641.28 346.16 L642.39 345.41 L643.5 344.66" fill="none" stroke="#0a0a0a" stroke-width="1.45" stroke-linejoin="round"/>
</g>
<rect x="377.5" y="320.5" width="266" height="235" fill="none" stroke="#585858" stroke-width="1"/>
<line x1="399.67" y1="555.5" x2="399.67" y2="553.5" stroke="#585858" stroke-width="0.8"/>
<line x1="444" y1="555.5" x2="444" y2="553.5" stroke="#585858" stroke-width="0.8"/>
<line x1="488.33" y1="555.5" x2="488.33" y2="553.5" stroke="#585858" stroke-width="0.8"/>
<line x1="532.67" y1="555.5" x2="532.67" y2="553.5" stroke="#585858" stroke-width="0.8"/>
<line x1="577" y1="555.5" x2="577" y2="553.5" stroke="#585858" stroke-width="0.8"/>
<line x1="621.33" y1="555.5" x2="621.33" y2="553.5" stroke="#585858" stroke-width="0.8"/>
<line x1="377.5" y1="555.5" x2="377.5" y2="551.9" stroke="#585858" stroke-width="0.9"/>
<text x="377.5" y="569.9" font-size="12.2" text-anchor="middle">2000</text>
<line x1="421.83" y1="555.5" x2="421.83" y2="551.9" stroke="#585858" stroke-width="0.9"/>
<text x="421.83" y="569.9" font-size="12.2" text-anchor="middle">2010</text>
<line x1="466.17" y1="555.5" x2="466.17" y2="551.9" stroke="#585858" stroke-width="0.9"/>
<text x="466.17" y="569.9" font-size="12.2" text-anchor="middle">2020</text>
<line x1="510.5" y1="555.5" x2="510.5" y2="551.9" stroke="#585858" stroke-width="0.9"/>
<text x="510.5" y="569.9" font-size="12.2" text-anchor="middle">2030</text>
<line x1="554.83" y1="555.5" x2="554.83" y2="551.9" stroke="#585858" stroke-width="0.9"/>
<text x="554.83" y="569.9" font-size="12.2" text-anchor="middle">2040</text>
<line x1="599.17" y1="555.5" x2="599.17" y2="551.9" stroke="#585858" stroke-width="0.9"/>
<text x="599.17" y="569.9" font-size="12.2" text-anchor="middle">2050</text>
<line x1="643.5" y1="555.5" x2="643.5" y2="551.9" stroke="#585858" stroke-width="0.9"/>
<text x="643.5" y="569.9" font-size="12.2" text-anchor="middle">2060</text>
<line x1="377.5" y1="527.55" x2="379.5" y2="527.55" stroke="#585858" stroke-width="0.8"/>
<line x1="377.5" y1="471.65" x2="379.5" y2="471.65" stroke="#585858" stroke-width="0.8"/>
<line x1="377.5" y1="415.75" x2="379.5" y2="415.75" stroke="#585858" stroke-width="0.8"/>
<line x1="377.5" y1="359.85" x2="379.5" y2="359.85" stroke="#585858" stroke-width="0.8"/>
<line x1="377.5" y1="555.5" x2="381.1" y2="555.5" stroke="#585858" stroke-width="0.9"/>
<text x="372.9" y="559.8" font-size="12.2" text-anchor="end">0</text>
<line x1="377.5" y1="499.6" x2="381.1" y2="499.6" stroke="#585858" stroke-width="0.9"/>
<text x="372.9" y="503.9" font-size="12.2" text-anchor="end">50</text>
<line x1="377.5" y1="443.7" x2="381.1" y2="443.7" stroke="#585858" stroke-width="0.9"/>
<text x="372.9" y="448" font-size="12.2" text-anchor="end">100</text>
<line x1="377.5" y1="387.8" x2="381.1" y2="387.8" stroke="#585858" stroke-width="0.9"/>
<text x="372.9" y="392.1" font-size="12.2" text-anchor="end">150</text>
<line x1="377.5" y1="331.9" x2="381.1" y2="331.9" stroke="#585858" stroke-width="0.9"/>
<text x="372.9" y="336.2" font-size="12.2" text-anchor="end">200</text>
<line x1="643.5" y1="488.25" x2="641.5" y2="488.25" stroke="#585858" stroke-width="0.8"/>
<line x1="643.5" y1="421.15" x2="641.5" y2="421.15" stroke="#585858" stroke-width="0.8"/>
<line x1="643.5" y1="354.05" x2="641.5" y2="354.05" stroke="#585858" stroke-width="0.8"/>
<line x1="643.5" y1="521.8" x2="639.9" y2="521.8" stroke="#585858" stroke-width="0.9"/>
<text x="648.1" y="526.1" font-size="12.2" text-anchor="start">0</text>
<line x1="643.5" y1="454.7" x2="639.9" y2="454.7" stroke="#585858" stroke-width="0.9"/>
<text x="648.1" y="459" font-size="12.2" text-anchor="start">100</text>
<line x1="643.5" y1="387.6" x2="639.9" y2="387.6" stroke="#585858" stroke-width="0.9"/>
<text x="648.1" y="391.9" font-size="12.2" text-anchor="start">200</text>
<line x1="643.5" y1="320.5" x2="639.9" y2="320.5" stroke="#585858" stroke-width="0.9"/>
<text x="648.1" y="324.8" font-size="12.2" text-anchor="start">300</text>
<text transform="translate(347.8 438) rotate(-90)" font-size="12.3" text-anchor="middle">Cold chain (Million units)</text>
<text transform="translate(682 439.2) rotate(-90)" font-size="12.3" text-anchor="middle">Cold storage capacity (Million tons)</text>
<text x="510.5" y="589.5" font-size="12.3" text-anchor="middle">Year</text>
<text x="357.6" y="313.9" font-size="12.3">(d)</text>
<rect x="379.8" y="323.1" width="128.2" height="106.2" fill="#fff" stroke="#9a9a9a" stroke-width="0.8"/>
<rect x="381.8" y="325.2" width="18" height="9.1" fill="#3a70dc" stroke="#555" stroke-width="0.7"/>
<text x="402.4" y="332.6" font-size="8.4">Self-contained refrigerator</text>
<rect x="381.8" y="335.6" width="18" height="9.1" fill="#bb66ee" stroke="#555" stroke-width="0.7"/>
<text x="402.4" y="343" font-size="8.4">Medical refrigerator</text>
<rect x="381.8" y="346" width="18" height="9.1" fill="#7ab7f4" stroke="#555" stroke-width="0.7"/>
<text x="402.4" y="353.4" font-size="8.4">Ice maker</text>
<rect x="381.8" y="356.4" width="18" height="9.1" fill="#bfe1fa" stroke="#555" stroke-width="0.7"/>
<text x="402.4" y="363.8" font-size="8.4">Refrigerated vending</text>
<rect x="381.8" y="366.8" width="18" height="9.1" fill="#9b1412" stroke="#555" stroke-width="0.7"/>
<text x="402.4" y="374.2" font-size="8.4">Refrigerated container</text>
<rect x="381.8" y="377.2" width="18" height="9.1" fill="#96501a" stroke="#555" stroke-width="0.7"/>
<text x="402.4" y="384.6" font-size="8.4">Wine cooler</text>
<rect x="381.8" y="387.6" width="18" height="9.1" fill="#da7420" stroke="#555" stroke-width="0.7"/>
<text x="402.4" y="395" font-size="8.4">Ice cream machine</text>
<rect x="381.8" y="398" width="18" height="9.1" fill="#46ee22" stroke="#555" stroke-width="0.7"/>
<text x="402.4" y="405.4" font-size="8.4">Refrigerated truck</text>
<rect x="381.8" y="408.4" width="18" height="9.1" fill="#f0f46e" stroke="#555" stroke-width="0.7"/>
<text x="402.4" y="415.8" font-size="8.4">Remote condensing cabinet</text>
<line x1="381.6" y1="423.2" x2="400" y2="423.2" stroke="#0a0a0a" stroke-width="1.5"/>
<text x="402.4" y="426.2" font-size="8.4">Cold storage capacity</text>
</g>
</svg>
</body></html>
